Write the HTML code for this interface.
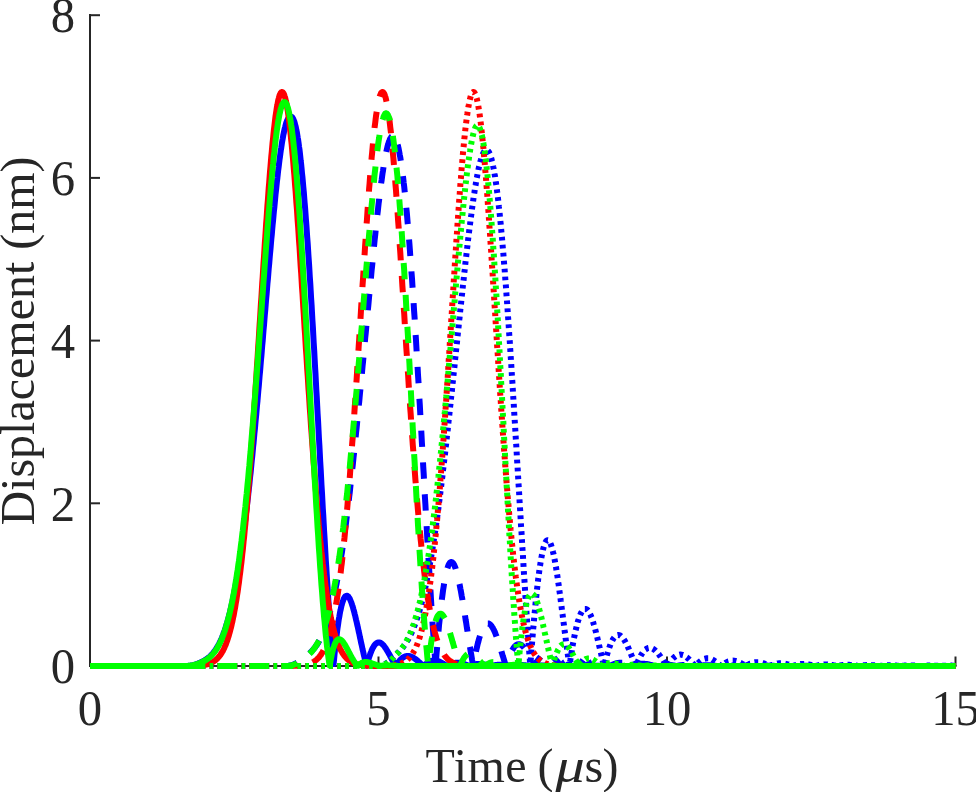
<!DOCTYPE html>
<html><head><meta charset="utf-8"><title>Displacement vs Time</title>
<style>html,body{margin:0;padding:0;background:#fff}svg{display:block}text{font-family:"Liberation Serif",serif;font-size:48px;fill:#262626}</style></head><body>
<svg width="976" height="792" viewBox="0 0 976 792">
<rect width="976" height="792" fill="#fff"/>
<g stroke="#262626" stroke-width="2" fill="none" stroke-linecap="butt">
<path d="M90,14 L90,667"/>
<path d="M89,666 L956.5,666"/>
<path d="M90,503.3 L100,503.3"/>
<path d="M90,340.6 L100,340.6"/>
<path d="M90,177.9 L100,177.9"/>
<path d="M90,15.2 L100,15.2"/>
<path d="M378.5,666 L378.5,656.5"/>
<path d="M667.0,666 L667.0,656.5"/>
<path d="M955.5,666 L955.5,656.5"/>
</g>
<g fill="none" stroke-width="6" stroke-linejoin="round">
<path d="M90.0,666.0 L185.6,666.0 L186.1,666.0 L186.5,665.9 L186.9,665.9 L187.4,665.9 L187.8,665.9 L188.2,665.8 L188.7,665.8 L189.1,665.8 L189.5,665.7 L190.0,665.7 L190.4,665.6 L190.8,665.6 L191.3,665.5 L191.7,665.4 L192.1,665.3 L192.6,665.3 L193.0,665.2 L193.4,665.1 L193.9,665.0 L194.3,664.9 L194.7,664.7 L195.2,664.6 L195.6,664.5 L196.0,664.3 L196.5,664.2 L196.9,664.0 L197.3,663.9 L197.8,663.7 L198.2,663.5 L198.6,663.3 L199.1,663.2 L199.5,663.0 L199.9,662.8 L200.4,662.5 L200.8,662.3 L201.2,662.1 L201.6,661.9 L202.1,661.7 L202.5,661.4 L202.9,661.2 L203.4,661.0 L203.8,660.8 L204.2,660.5 L204.7,660.3 L205.1,660.0 L205.5,659.8 L206.0,659.5 L206.4,659.2 L206.8,658.9 L207.3,658.6 L207.7,658.3 L208.1,657.9 L208.6,657.6 L209.0,657.2 L209.4,656.9 L209.9,656.5 L210.3,656.1 L210.7,655.6 L211.2,655.2 L211.6,654.7 L212.0,654.3 L212.5,653.8 L212.9,653.3 L213.3,652.8 L213.8,652.2 L214.2,651.7 L214.6,651.1 L215.1,650.5 L215.5,649.8 L215.9,649.2 L216.4,648.5 L216.8,647.8 L217.2,647.1 L217.7,646.4 L218.1,645.6 L218.5,644.8 L219.0,644.0 L219.4,643.1 L219.8,642.3 L220.3,641.4 L220.7,640.4 L221.1,639.5 L221.6,638.5 L222.0,637.5 L222.4,636.4 L222.9,635.3 L223.3,634.2 L223.7,633.0 L224.2,631.8 L224.6,630.6 L225.0,629.3 L225.5,628.0 L225.9,626.7 L226.3,625.3 L226.7,623.9 L227.2,622.5 L227.6,621.0 L228.0,619.4 L228.5,617.9 L228.9,616.2 L229.3,614.6 L229.8,612.9 L230.2,611.1 L230.6,609.3 L231.1,607.5 L231.5,605.6 L231.9,603.7 L232.4,601.7 L232.8,599.7 L233.2,597.6 L233.7,595.5 L234.1,593.3 L234.5,591.1 L235.0,588.8 L235.4,586.5 L235.8,584.2 L236.3,581.7 L236.7,579.3 L237.1,576.8 L237.6,574.2 L238.0,571.6 L238.4,568.9 L238.9,566.2 L239.3,563.4 L239.7,560.6 L240.2,557.7 L240.6,554.8 L241.0,551.8 L241.5,548.8 L241.9,545.7 L242.3,542.5 L242.8,539.3 L243.2,536.1 L243.6,532.8 L244.1,529.4 L244.5,526.0 L244.9,522.6 L245.4,519.0 L245.8,515.5 L246.2,511.9 L246.7,508.2 L247.1,504.5 L247.5,500.7 L248.0,496.9 L248.4,493.0 L248.8,489.1 L249.3,485.1 L249.7,481.0 L250.1,477.0 L250.6,472.8 L251.0,468.7 L251.4,464.4 L251.8,460.2 L252.3,455.8 L252.7,451.5 L253.1,447.0 L253.6,442.6 L254.0,438.1 L254.4,433.5 L254.9,429.0 L255.3,424.3 L255.7,419.7 L256.2,414.9 L256.6,410.2 L257.0,405.4 L257.5,400.6 L257.9,395.7 L258.3,390.9 L258.8,385.9 L259.2,381.0 L259.6,376.0 L260.1,371.0 L260.5,366.0 L260.9,361.0 L261.4,355.9 L261.8,350.8 L262.2,345.7 L262.7,340.6 L263.1,335.5 L263.5,330.3 L264.0,325.2 L264.4,320.0 L264.8,314.9 L265.3,309.7 L265.7,304.6 L266.1,299.4 L266.6,294.3 L267.0,289.2 L267.4,284.1 L267.9,279.0 L268.3,273.9 L268.7,268.8 L269.2,263.8 L269.6,258.8 L270.0,253.9 L270.5,248.9 L270.9,244.0 L271.3,239.2 L271.8,234.4 L272.2,229.6 L272.6,224.9 L273.1,220.3 L273.5,215.7 L273.9,211.2 L274.4,206.8 L274.8,202.4 L275.2,198.1 L275.6,193.8 L276.1,189.7 L276.5,185.6 L276.9,181.6 L277.4,177.8 L277.8,174.0 L278.2,170.3 L278.7,166.7 L279.1,163.2 L279.5,159.8 L280.0,156.5 L280.4,153.4 L280.8,150.3 L281.3,147.4 L281.7,144.6 L282.1,141.9 L282.6,139.3 L283.0,136.9 L283.4,134.6 L283.9,132.5 L284.3,130.4 L284.7,128.5 L285.2,126.8 L285.6,125.2 L286.0,123.7 L286.5,122.4 L286.9,121.2 L287.3,120.2 L287.8,119.3 L288.2,118.6 L288.6,118.1 L289.1,117.6 L289.5,117.4 L289.9,117.2 L290.4,116.8 L290.8,116.7 L291.2,116.7 L291.7,116.9 L292.1,117.2 L292.5,117.7 L293.0,118.4 L293.4,119.3 L293.8,120.3 L294.3,121.5 L294.7,122.9 L295.1,124.4 L295.6,126.2 L296.0,128.1 L296.4,130.2 L296.9,132.4 L297.3,134.9 L297.7,137.5 L298.2,140.3 L298.6,143.2 L299.0,146.4 L299.5,149.7 L299.9,153.2 L300.3,156.8 L300.7,160.7 L301.2,164.7 L301.6,168.8 L302.0,173.2 L302.5,177.7 L302.9,182.3 L303.3,187.1 L303.8,192.1 L304.2,197.3 L304.6,202.5 L305.1,208.0 L305.5,213.6 L305.9,219.3 L306.4,225.2 L306.8,231.2 L307.2,237.3 L307.7,243.6 L308.1,250.0 L308.5,256.5 L309.0,263.2 L309.4,269.9 L309.8,276.8 L310.3,283.8 L310.7,290.8 L311.1,298.0 L311.6,305.3 L312.0,312.6 L312.4,320.0 L312.9,327.5 L313.3,335.1 L313.7,342.8 L314.2,350.5 L314.6,358.2 L315.0,366.0 L315.5,373.9 L315.9,381.8 L316.3,389.7 L316.8,397.6 L317.2,405.6 L317.6,413.6 L318.1,421.6 L318.5,429.6 L318.9,437.6 L319.4,445.5 L319.8,453.5 L320.2,461.4 L320.7,469.4 L321.1,477.2 L321.5,485.1 L322.0,492.9 L322.4,500.6 L322.8,508.3 L323.3,516.0 L323.7,523.5 L324.1,531.0 L324.6,538.4 L325.0,545.8 L325.4,553.0 L325.8,560.2 L326.3,567.2 L326.7,574.2 L327.1,581.0 L327.6,587.8 L328.0,594.4 L328.4,600.9 L328.9,607.2 L329.3,613.5 L329.7,619.6 L330.2,625.6 L330.6,631.4 L331.0,637.1 L331.5,642.6 L331.9,648.0 L332.3,653.3 L332.8,658.4 L333.2,663.3 L333.6,663.9 L334.1,659.3 L334.5,654.8 L334.9,650.5 L335.4,646.4 L335.8,642.4 L336.2,638.6 L336.7,635.0 L337.1,631.5 L337.5,628.2 L338.0,625.1 L338.4,622.1 L338.8,619.3 L339.3,616.7 L339.7,614.2 L340.1,611.9 L340.6,609.8 L341.0,607.8 L341.4,606.0 L341.9,604.3 L342.3,602.8 L342.7,601.5 L343.2,600.3 L343.6,599.2 L344.0,598.3 L344.5,597.5 L344.9,596.9 L345.3,596.4 L345.8,596.1 L346.2,595.9 L346.6,595.8 L347.1,595.8 L347.5,596.0 L347.9,596.3 L348.4,596.7 L348.8,597.3 L349.2,597.9 L349.7,598.7 L350.1,599.5 L350.5,600.5 L350.9,601.5 L351.4,602.7 L351.8,603.9 L352.2,605.2 L352.7,606.6 L353.1,608.0 L353.5,609.6 L354.0,611.2 L354.4,612.8 L354.8,614.5 L355.3,616.3 L355.7,618.1 L356.1,619.9 L356.6,621.8 L357.0,623.7 L357.4,625.6 L357.9,627.6 L358.3,629.5 L358.7,631.5 L359.2,633.5 L359.6,635.5 L360.0,637.5 L360.5,639.6 L360.9,641.6 L361.3,643.6 L361.8,645.6 L362.2,647.5 L362.6,649.5 L363.1,651.4 L363.5,653.3 L363.9,655.2 L364.4,657.1 L364.8,658.9 L365.2,660.7 L365.7,662.4 L366.1,664.2 L366.5,665.8 L367.0,664.6 L367.4,663.0 L367.8,661.5 L368.3,660.0 L368.7,658.6 L369.1,657.2 L369.6,655.9 L370.0,654.7 L370.4,653.5 L370.9,652.3 L371.3,651.3 L371.7,650.2 L372.2,649.3 L372.6,648.4 L373.0,647.6 L373.5,646.8 L373.9,646.1 L374.3,645.5 L374.7,644.9 L375.2,644.4 L375.6,643.9 L376.0,643.6 L376.5,643.2 L376.9,643.0 L377.3,642.7 L377.8,642.6 L378.2,642.5 L378.6,642.4 L379.1,642.5 L379.5,642.5 L379.9,642.6 L380.4,642.8 L380.8,643.0 L381.2,643.3 L381.7,643.6 L382.1,643.9 L382.5,644.3 L383.0,644.8 L383.4,645.2 L383.8,645.7 L384.3,646.3 L384.7,646.9 L385.1,647.5 L385.6,648.1 L386.0,648.8 L386.4,649.5 L386.9,650.2 L387.3,650.9 L387.7,651.6 L388.2,652.4 L388.6,653.2 L389.0,653.9 L389.5,654.7 L389.9,655.5 L390.3,656.3 L390.8,657.1 L391.2,657.9 L391.6,658.8 L392.1,659.6 L392.5,660.3 L392.9,661.1 L393.4,661.9 L393.8,662.7 L394.2,663.4 L394.7,664.2 L395.1,664.9 L395.5,665.6 L396.0,665.7 L396.4,665.0 L396.8,664.3 L397.3,663.7 L397.7,663.1 L398.1,662.5 L398.6,661.9 L399.0,661.3 L399.4,660.8 L399.8,660.3 L400.3,659.9 L400.7,659.4 L401.1,659.0 L401.6,658.6 L402.0,658.2 L402.4,657.9 L402.9,657.6 L403.3,657.3 L403.7,657.0 L404.2,656.8 L404.6,656.6 L405.0,656.5 L405.5,656.3 L405.9,656.2 L406.3,656.1 L406.8,656.0 L407.2,656.0 L407.6,656.0 L408.1,656.0 L408.5,656.0 L408.9,656.1 L409.4,656.1 L409.8,656.2 L410.2,656.3 L410.7,656.4 L411.1,656.6 L411.5,656.8 L412.0,656.9 L412.4,657.2 L412.8,657.4 L413.3,657.6 L413.7,657.9 L414.1,658.2 L414.6,658.5 L415.0,658.8 L415.4,659.1 L415.9,659.4 L416.3,659.7 L416.7,660.1 L417.2,660.4 L417.6,660.8 L418.0,661.2 L418.5,661.6 L418.9,661.9 L419.3,662.3 L419.8,662.7 L420.2,663.1 L420.6,663.5 L421.1,663.9 L421.5,664.3 L421.9,664.7 L422.4,665.1 L422.8,665.5 L423.2,665.8 L423.7,665.8 L424.1,665.4 L424.5,665.1 L424.9,664.7 L425.4,664.4 L425.8,664.0 L426.2,663.7 L426.7,663.3 L427.1,663.0 L427.5,662.7 L428.0,662.5 L428.4,662.2 L428.8,661.9 L429.3,661.7 L429.7,661.5 L430.1,661.3 L430.6,661.2 L431.0,661.0 L431.4,660.9 L431.9,660.8 L432.3,660.7 L432.7,660.6 L433.2,660.5 L433.6,660.5 L434.0,660.5 L434.5,660.5 L434.9,660.5 L435.3,660.6 L435.8,660.6 L436.2,660.7 L436.6,660.8 L437.1,660.9 L437.5,661.0 L437.9,661.2 L438.4,661.3 L438.8,661.5 L439.2,661.7 L439.7,661.8 L440.1,662.0 L440.5,662.3 L441.0,662.5 L441.4,662.7 L441.8,662.9 L442.3,663.2 L442.7,663.4 L443.1,663.7 L443.6,663.9 L444.0,664.2 L444.4,664.4 L444.9,664.7 L445.3,665.0 L445.7,665.2 L446.2,665.5 L446.6,665.7 L447.0,666.0 L447.5,665.8 L447.9,665.5 L448.3,665.3 L448.7,665.1 L449.2,664.9 L449.6,664.7 L450.0,664.5 L450.5,664.3 L450.9,664.1 L451.3,663.9 L451.8,663.7 L452.2,663.6 L452.6,663.5 L453.1,663.3 L453.5,663.2 L453.9,663.1 L454.4,663.0 L454.8,662.9 L455.2,662.9 L455.7,662.8 L456.1,662.8 L456.5,662.7 L457.0,662.7 L457.4,662.7 L457.8,662.7 L458.3,662.8 L458.7,662.8 L459.1,662.8 L459.6,662.9 L460.0,663.0 L460.4,663.0 L460.9,663.1 L461.3,663.2 L461.7,663.3 L462.2,663.4 L462.6,663.6 L463.0,663.7 L463.5,663.8 L463.9,664.0 L464.3,664.1 L464.8,664.2 L465.2,664.4 L465.6,664.6 L466.1,664.7 L466.5,664.9 L466.9,665.0 L467.4,665.2 L467.8,665.4 L468.2,665.5 L468.7,665.7 L469.1,665.9 L469.5,666.0 L470.0,665.8 L470.4,665.7 L470.8,665.5 L471.3,665.4 L471.7,665.2 L472.1,665.1 L472.6,665.0 L473.0,664.9 L473.4,664.7 L473.8,664.6 L474.3,664.5 L474.7,664.4 L475.1,664.3 L475.6,664.3 L476.0,664.2 L476.4,664.1 L476.9,664.1 L477.3,664.0 L477.7,664.0 L478.2,664.0 L478.6,664.0 L479.0,663.9 L479.5,663.9 L479.9,663.9 L480.3,664.0 L480.8,664.0 L481.2,664.0 L481.6,664.1 L482.1,664.1 L482.5,664.2 L482.9,664.2 L483.4,664.3 L483.8,664.3 L484.2,664.4 L484.7,664.5 L485.1,664.6 L485.5,664.7 L486.0,664.8 L486.4,664.9 L486.8,665.0 L487.3,665.1 L487.7,665.2 L488.1,665.3 L488.6,665.4 L489.0,665.5 L489.4,665.6 L489.9,665.7 L490.3,665.8 L490.7,665.9 L491.2,665.9 L491.6,665.8 L492.0,665.7 L492.5,665.6 L492.9,665.5 L493.3,665.5 L493.8,665.4 L494.2,665.3 L494.6,665.2 L495.1,665.1 L495.5,665.1 L495.9,665.0 L496.4,664.9 L496.8,664.9 L497.2,664.8 L497.7,664.8 L498.1,664.7 L498.5,664.7 L498.9,664.7 L499.4,664.7 L499.8,664.7 L500.2,664.7 L500.7,664.7 L501.1,664.7 L501.5,664.7 L502.0,664.7 L502.4,664.7 L502.8,664.7 L503.3,664.8 L503.7,664.8 L504.1,664.8 L504.6,664.9 L505.0,664.9 L505.4,665.0 L505.9,665.0 L506.3,665.1 L506.7,665.2 L507.2,665.2 L507.6,665.3 L508.0,665.4 L508.5,665.4 L508.9,665.5 L509.3,665.6 L509.8,665.7 L510.2,665.7 L510.6,665.8 L511.1,665.9 L511.5,666.0 L511.9,666.0 L512.4,665.9 L512.8,665.8 L513.2,665.7 L513.7,665.7 L514.1,665.6 L514.5,665.6 L515.0,665.5 L515.4,665.4 L515.8,665.4 L516.3,665.3 L516.7,665.3 L517.1,665.3 L517.6,665.2 L518.0,665.2 L518.4,665.2 L518.9,665.1 L519.3,665.1 L519.7,665.1 L520.2,665.1 L520.6,665.1 L521.0,665.1 L521.5,665.1 L521.9,665.1 L522.3,665.1 L522.8,665.1 L523.2,665.1 L523.6,665.2 L524.0,665.2 L524.5,665.2 L524.9,665.2 L525.3,665.3 L525.8,665.3 L526.2,665.4 L526.6,665.4 L527.1,665.4 L527.5,665.5 L527.9,665.5 L528.4,665.6 L528.8,665.6 L529.2,665.7 L529.7,665.7 L530.1,665.8 L530.5,665.8 L531.0,665.9 L531.4,666.0 L531.8,666.0 L532.3,665.9 L532.7,665.9 L533.1,665.8 L533.6,665.8 L534.0,665.7 L534.4,665.7 L534.9,665.7 L535.3,665.6 L535.7,665.6 L536.2,665.6 L536.6,665.5 L537.0,665.5 L537.5,665.5 L537.9,665.4 L538.3,665.4 L538.8,665.4 L539.2,665.4 L539.6,665.4 L540.1,665.4 L540.5,665.4 L540.9,665.4 L541.4,665.4 L541.8,665.4 L542.2,665.4 L542.7,665.4 L543.1,665.4 L543.5,665.4 L544.0,665.4 L544.4,665.5 L544.8,665.5 L545.3,665.5 L545.7,665.5 L546.1,665.6 L546.6,665.6 L547.0,665.6 L547.4,665.7 L547.8,665.7 L548.3,665.7 L548.7,665.8 L549.1,665.8 L549.6,665.8 L550.0,665.9 L550.4,665.9 L550.9,666.0 L551.3,666.0 L551.7,666.0 L552.2,665.9 L552.6,665.9 L553.0,665.9 L553.5,665.8 L553.9,665.8 L554.3,665.8 L554.8,665.7 L555.2,665.7 L555.6,665.7 L556.1,665.7 L556.5,665.6 L556.9,665.6 L557.4,665.6 L557.8,665.6 L558.2,665.6 L558.7,665.6 L559.1,665.6 L559.5,665.5 L560.0,665.5 L560.4,665.5 L560.8,665.5 L561.3,665.6 L561.7,665.6 L562.1,665.6 L562.6,665.6 L563.0,665.6 L563.4,665.6 L563.9,665.6 L564.3,665.6 L564.7,665.7 L565.2,665.7 L565.6,665.7 L566.0,665.7 L566.5,665.7 L566.9,665.8 L567.3,665.8 L567.8,665.8 L568.2,665.9 L568.6,665.9 L569.1,665.9 L569.5,665.9 L569.9,666.0 L570.8,666.0 L571.2,666.0 L571.7,665.9 L572.1,665.9 L572.5,665.9 L572.9,665.9 L573.4,665.8 L573.8,665.8 L574.2,665.8 L574.7,665.8 L575.1,665.8 L575.5,665.7 L576.0,665.7 L576.4,665.7 L576.8,665.7 L577.3,665.7 L577.7,665.7 L578.1,665.7 L578.6,665.7 L579.0,665.7 L579.4,665.7 L579.9,665.7 L580.3,665.7 L580.7,665.7 L581.2,665.7 L581.6,665.7 L582.0,665.7 L582.5,665.7 L582.9,665.7 L583.3,665.7 L583.8,665.8 L584.2,665.8 L584.6,665.8 L585.1,665.8 L585.5,665.8 L585.9,665.8 L586.4,665.9 L586.8,665.9 L587.2,665.9 L587.7,665.9 L588.1,665.9 L588.5,666.0 L589.8,666.0 L590.3,665.9 L590.7,665.9 L591.1,665.9 L591.6,665.9 L592.0,665.9 L592.4,665.9 L592.9,665.8 L593.3,665.8 L593.7,665.8 L594.2,665.8 L594.6,665.8 L595.0,665.8 L595.5,665.8 L595.9,665.8 L596.3,665.8 L596.8,665.8 L597.2,665.8 L597.6,665.8 L598.0,665.8 L598.5,665.8 L598.9,665.8 L599.3,665.8 L599.8,665.8 L600.2,665.8 L600.6,665.8 L601.1,665.8 L601.5,665.8 L601.9,665.8 L602.4,665.8 L602.8,665.8 L603.2,665.8 L603.7,665.9 L604.1,665.9 L604.5,665.9 L605.0,665.9 L605.4,665.9 L605.8,665.9 L606.3,666.0 L606.7,666.0 L608.4,666.0 L608.9,666.0 L609.3,665.9 L609.7,665.9 L610.2,665.9 L610.6,665.9 L611.0,665.9 L611.5,665.9 L611.9,665.9 L612.3,665.9 L612.8,665.8 L613.2,665.8 L613.6,665.8 L614.1,665.8 L614.5,665.8 L614.9,665.8 L615.4,665.8 L615.8,665.8 L616.2,665.8 L616.7,665.8 L617.1,665.8 L617.5,665.8 L618.0,665.8 L618.4,665.8 L618.8,665.8 L619.3,665.8 L619.7,665.9 L620.1,665.9 L620.6,665.9 L621.0,665.9 L621.4,665.9 L621.8,665.9 L622.3,665.9 L622.7,665.9 L623.1,665.9 L623.6,665.9 L624.0,666.0 L624.4,666.0 L626.6,666.0 L627.0,666.0 L627.5,665.9 L627.9,665.9 L628.3,665.9 L628.8,665.9 L629.2,665.9 L629.6,665.9 L630.1,665.9 L630.5,665.9 L630.9,665.9 L631.4,665.9 L631.8,665.9 L632.2,665.9 L632.7,665.9 L633.1,665.9 L633.5,665.9 L634.0,665.9 L634.4,665.9 L634.8,665.9 L635.3,665.9 L635.7,665.9 L636.1,665.9 L636.6,665.9 L637.0,665.9 L637.4,665.9 L637.9,665.9 L638.3,665.9 L638.7,665.9 L639.2,665.9 L639.6,665.9 L640.0,665.9 L640.5,665.9 L640.9,666.0 L641.3,666.0 L644.8,666.0 L645.2,666.0 L645.7,665.9 L646.1,665.9 L646.5,665.9 L646.9,665.9 L647.4,665.9 L647.8,665.9 L648.2,665.9 L648.7,665.9 L649.1,665.9 L649.5,665.9 L650.0,665.9 L650.4,665.9 L650.8,665.9 L651.3,665.9 L651.7,665.9 L652.1,665.9 L652.6,665.9 L653.0,665.9 L653.4,665.9 L653.9,665.9 L654.3,665.9 L654.7,665.9 L655.2,665.9 L655.6,665.9 L656.0,665.9 L656.5,665.9 L656.9,665.9 L657.3,665.9 L657.8,666.0 L658.2,666.0 L663.0,666.0 L663.4,666.0 L663.8,665.9 L664.3,665.9 L664.7,665.9 L665.1,665.9 L665.6,665.9 L666.0,665.9 L666.4,665.9 L666.9,665.9 L667.3,665.9 L667.7,665.9 L668.2,665.9 L668.6,665.9 L669.0,665.9 L669.5,665.9 L669.9,665.9 L670.3,665.9 L670.8,665.9 L671.2,665.9 L671.6,665.9 L672.0,665.9 L672.5,665.9 L672.9,665.9 L673.3,665.9 L673.8,665.9 L674.2,666.0 L674.6,666.0 L675.1,666.0 L680.7,666.0 L681.1,666.0 L681.6,666.0 L682.0,666.0 L682.4,665.9 L682.9,665.9 L683.3,665.9 L683.7,665.9 L684.2,665.9 L684.6,665.9 L685.0,665.9 L685.5,665.9 L685.9,665.9 L686.3,665.9 L686.8,665.9 L687.2,665.9 L687.6,665.9 L688.1,665.9 L688.5,665.9 L688.9,665.9 L689.4,665.9 L689.8,666.0 L690.2,666.0 L690.7,666.0 L691.1,666.0 L698.9,666.0 L699.3,666.0 L699.7,666.0 L700.2,666.0 L700.6,666.0 L701.0,666.0 L701.5,665.9 L701.9,665.9 L702.3,665.9 L702.8,665.9 L703.2,665.9 L703.6,665.9 L704.1,666.0 L704.5,666.0 L704.9,666.0 L705.4,666.0 L705.8,666.0 L706.2,666.0 L717.9,666.0 L718.4,666.0 L718.8,666.0 L719.2,666.0 L719.7,666.0 L720.1,666.0 L720.5,666.0 L955.5,666.0" stroke="#0000ff"/>
<path d="M90.0,666.0 L286.0,666.0 L286.5,666.0 L286.9,665.9 L287.3,665.9 L287.8,665.9 L288.2,665.8 L288.6,665.8 L289.1,665.7 L289.5,665.6 L289.9,665.5 L290.4,665.5 L290.8,665.4 L291.2,665.3 L291.7,665.1 L292.1,665.0 L292.5,664.9 L293.0,664.7 L293.4,664.6 L293.8,664.4 L294.3,664.2 L294.7,664.0 L295.1,663.8 L295.6,663.6 L296.0,663.4 L296.4,663.1 L296.9,662.9 L297.3,662.6 L297.7,662.4 L298.2,662.1 L298.6,661.8 L299.0,661.5 L299.5,661.2 L299.9,660.9 L300.3,660.5 L300.7,660.2 L301.2,659.9 L301.6,659.5 L302.0,659.2 L302.5,658.9 L302.9,658.5 L303.3,658.2 L303.8,657.9 L304.2,657.6 L304.6,657.3 L305.1,657.0 L305.5,656.7 L305.9,656.3 L306.4,656.0 L306.8,655.7 L307.2,655.4 L307.7,655.0 L308.1,654.6 L308.5,654.3 L309.0,653.9 L309.4,653.5 L309.8,653.1 L310.3,652.7 L310.7,652.2 L311.1,651.8 L311.6,651.4 L312.0,650.9 L312.4,650.4 L312.9,649.9 L313.3,649.4 L313.7,648.9 L314.2,648.4 L314.6,647.8 L315.0,647.3 L315.5,646.7 L315.9,646.1 L316.3,645.5 L316.8,644.9 L317.2,644.2 L317.6,643.6 L318.1,642.9 L318.5,642.2 L318.9,641.4 L319.4,640.6 L319.8,639.8 L320.2,639.0 L320.7,638.1 L321.1,637.2 L321.5,636.3 L322.0,635.3 L322.4,634.4 L322.8,633.4 L323.3,632.3 L323.7,631.3 L324.1,630.2 L324.6,629.1 L325.0,627.9 L325.4,626.8 L325.8,625.6 L326.3,624.3 L326.7,623.0 L327.1,621.7 L327.6,620.4 L328.0,619.0 L328.4,617.6 L328.9,616.2 L329.3,614.7 L329.7,613.1 L330.2,611.6 L330.6,610.0 L331.0,608.3 L331.5,606.7 L331.9,604.9 L332.3,603.2 L332.8,601.4 L333.2,599.5 L333.6,597.6 L334.1,595.7 L334.5,593.7 L334.9,591.6 L335.4,589.6 L335.8,587.4 L336.2,585.3 L336.7,583.0 L337.1,580.8 L337.5,578.4 L338.0,576.1 L338.4,573.7 L338.8,571.2 L339.3,568.7 L339.7,566.1" stroke="#0000ff" stroke-dasharray="16.4 15.5"/>
<path d="M339.7,566.1 L340.1,563.5 L340.6,560.8 L341.0,558.1 L341.4,555.3 L341.9,552.5 L342.3,549.6 L342.7,546.6 L343.2,543.7 L343.6,540.6 L344.0,537.5 L344.5,534.4 L344.9,531.2 L345.3,528.0 L345.8,524.7 L346.2,521.3 L346.6,517.9 L347.1,514.5 L347.5,511.0 L347.9,507.5 L348.4,503.9 L348.8,500.3 L349.2,496.6 L349.7,492.9 L350.1,489.1 L350.5,485.3 L350.9,481.5 L351.4,477.6 L351.8,473.7 L352.2,469.7 L352.7,465.7 L353.1,461.7 L353.5,457.6 L354.0,453.5 L354.4,449.4 L354.8,445.2 L355.3,441.0 L355.7,436.8 L356.1,432.5 L356.6,428.2 L357.0,423.9 L357.4,419.5 L357.9,415.2 L358.3,410.8 L358.7,406.3 L359.2,401.9 L359.6,397.4 L360.0,392.9 L360.5,388.4 L360.9,383.9 L361.3,379.4 L361.8,374.8 L362.2,370.3 L362.6,365.7 L363.1,361.1 L363.5,356.5 L363.9,351.9 L364.4,347.3 L364.8,342.7 L365.2,338.1 L365.7,333.5 L366.1,328.9 L366.5,324.3 L367.0,319.7 L367.4,315.0 L367.8,310.4 L368.3,305.8 L368.7,301.3 L369.1,296.7 L369.6,292.1 L370.0,287.6 L370.4,283.1 L370.9,278.6 L371.3,274.1 L371.7,269.6 L372.2,265.2 L372.6,260.8 L373.0,256.4 L373.5,252.1 L373.9,247.8 L374.3,243.5 L374.7,239.3 L375.2,235.1 L375.6,231.0 L376.0,226.9 L376.5,222.9 L376.9,218.9 L377.3,215.0 L377.8,211.2 L378.2,207.4 L378.6,203.6 L379.1,200.0 L379.5,196.4 L379.9,192.9 L380.4,189.5 L380.8,186.1 L381.2,182.8 L381.7,179.7 L382.1,176.6 L382.5,173.6 L383.0,170.7 L383.4,167.9 L383.8,165.2 L384.3,162.6 L384.7,160.1 L385.1,157.7 L385.6,155.4 L386.0,153.3 L386.4,151.2 L386.9,149.3 L387.3,147.5 L387.7,145.8 L388.2,144.3 L388.6,142.8 L389.0,141.5 L389.5,140.4 L389.9,139.3 L390.3,138.4 L390.8,137.7 L391.2,137.1 L391.6,136.6 L392.1,136.3 L392.5,136.1 L392.9,136.0" stroke="#0000ff" stroke-dasharray="16.4 15.5" stroke-dashoffset="29.66"/>
<path d="M392.9,136.0 L393.4,136.0 L393.8,136.3 L394.2,136.6 L394.7,137.1 L395.1,137.8 L395.5,138.6 L396.0,139.6 L396.4,140.7 L396.8,141.9 L397.3,143.4 L397.7,144.9 L398.1,146.6 L398.6,148.5 L399.0,150.5 L399.4,152.7 L399.8,155.0 L400.3,157.5 L400.7,160.1 L401.1,162.9 L401.6,165.9 L402.0,168.9 L402.4,172.2 L402.9,175.6 L403.3,179.1 L403.7,182.8 L404.2,186.6 L404.6,190.5 L405.0,194.7 L405.5,198.9 L405.9,203.3 L406.3,207.8 L406.8,212.5 L407.2,217.3 L407.6,222.3 L408.1,227.3 L408.5,232.6 L408.9,237.9 L409.4,243.4 L409.8,248.9 L410.2,254.6 L410.7,260.5 L411.1,266.4 L411.5,272.5 L412.0,278.6 L412.4,284.9 L412.8,291.3 L413.3,297.8 L413.7,304.4 L414.1,311.0 L414.6,317.8 L415.0,324.7 L415.4,331.6 L415.9,338.6 L416.3,345.7 L416.7,352.9 L417.2,360.1 L417.6,367.4 L418.0,374.8 L418.5,382.2 L418.9,389.6 L419.3,397.2 L419.8,404.7 L420.2,412.3 L420.6,419.9 L421.1,427.6 L421.5,435.2 L421.9,442.9 L422.4,450.6 L422.8,458.3 L423.2,466.0 L423.7,473.8 L424.1,481.5 L424.5,489.1 L424.9,496.8 L425.4,504.5 L425.8,512.1 L426.2,519.7 L426.7,527.2 L427.1,534.7 L427.5,542.1 L428.0,549.5 L428.4,556.9 L428.8,564.2 L429.3,571.4 L429.7,578.5 L430.1,585.6 L430.6,592.5 L431.0,599.4 L431.4,606.2 L431.9,612.9 L432.3,619.5 L432.7,626.0 L433.2,632.4 L433.6,638.7 L434.0,644.8 L434.5,650.9 L434.9,656.8 L435.3,662.6 L435.8,663.8" stroke="#0000ff" stroke-dasharray="16.4 15.5" stroke-dashoffset="21.59"/>
<path d="M435.8,663.8 L436.2,658.3 L436.6,652.9 L437.1,647.6 L437.5,642.5 L437.9,637.6 L438.4,632.7 L438.8,628.1 L439.2,623.6 L439.7,619.2 L440.1,615.0 L440.5,610.9 L441.0,607.0 L441.4,603.3 L441.8,599.7 L442.3,596.3 L442.7,593.1 L443.1,590.0 L443.6,587.0 L444.0,584.3 L444.4,581.7 L444.9,579.3 L445.3,577.0 L445.7,574.9 L446.2,572.9 L446.6,571.2 L447.0,569.5 L447.5,568.1 L447.9,566.8 L448.3,565.7 L448.7,564.7 L449.2,563.8 L449.6,563.2 L450.0,562.7 L450.5,562.3 L450.9,562.1 L451.3,562.0 L451.8,562.1 L452.2,562.3 L452.6,562.6 L453.1,563.1 L453.5,563.7 L453.9,564.5 L454.4,565.4 L454.8,566.4 L455.2,567.5 L455.7,568.7 L456.1,570.1 L456.5,571.5 L457.0,573.1 L457.4,574.8 L457.8,576.5 L458.3,578.4 L458.7,580.3 L459.1,582.3 L459.6,584.4 L460.0,586.6 L460.4,588.8 L460.9,591.2 L461.3,593.5 L461.7,596.0 L462.2,598.4 L462.6,601.0 L463.0,603.5 L463.5,606.1 L463.9,608.8 L464.3,611.5 L464.8,614.2 L465.2,616.9 L465.6,619.6 L466.1,622.4 L466.5,625.1 L466.9,627.9 L467.4,630.6 L467.8,633.4 L468.2,636.1 L468.7,638.9 L469.1,641.6 L469.5,644.3 L470.0,647.0 L470.4,649.7 L470.8,652.3 L471.3,654.9 L471.7,657.4 L472.1,660.0 L472.6,662.4 L473.0,664.9 L473.4,664.7 L473.8,662.4 L474.3,660.1 L474.7,657.9 L475.1,655.7 L475.6,653.6 L476.0,651.5 L476.4,649.5 L476.9,647.6 L477.3,645.7 L477.7,643.9 L478.2,642.2 L478.6,640.5 L479.0,638.9 L479.5,637.4 L479.9,636.0 L480.3,634.6 L480.8,633.3 L481.2,632.1 L481.6,631.0 L482.1,629.9 L482.5,629.0 L482.9,628.1 L483.4,627.2 L483.8,626.5 L484.2,625.8 L484.7,625.3 L485.1,624.8 L485.5,624.3 L486.0,624.0 L486.4,623.7 L486.8,623.5 L487.3,623.4 L487.7,623.4 L488.1,623.4 L488.6,623.5 L489.0,623.7 L489.4,623.9 L489.9,624.2 L490.3,624.6 L490.7,625.0 L491.2,625.5 L491.6,626.1 L492.0,626.7 L492.5,627.4 L492.9,628.2 L493.3,629.0 L493.8,629.8 L494.2,630.7 L494.6,631.7 L495.1,632.7 L495.5,633.8 L495.9,634.9 L496.4,636.0 L496.8,637.2 L497.2,638.4 L497.7,639.6 L498.1,640.9 L498.5,642.2 L498.9,643.5 L499.4,644.9 L499.8,646.2 L500.2,647.6 L500.7,649.0 L501.1,650.4 L501.5,651.8 L502.0,653.3 L502.4,654.7 L502.8,656.1 L503.3,657.5 L503.7,658.9 L504.1,660.3 L504.6,661.7 L505.0,663.1 L505.4,664.4 L505.9,665.8 L506.3,664.9 L506.7,663.6 L507.2,662.3 L507.6,661.1 L508.0,659.9 L508.5,658.7 L508.9,657.5 L509.3,656.4 L509.8,655.4 L510.2,654.4 L510.6,653.4 L511.1,652.4 L511.5,651.5 L511.9,650.7 L512.4,649.9 L512.8,649.2 L513.2,648.5 L513.7,647.8 L514.1,647.2 L514.5,646.7 L515.0,646.2 L515.4,645.8 L515.8,645.4 L516.3,645.1 L516.7,644.8 L517.1,644.6 L517.6,644.4 L518.0,644.3 L518.4,644.2 L518.9,644.2 L519.3,644.2 L519.7,644.3 L520.2,644.4 L520.6,644.6 L521.0,644.9 L521.5,645.1 L521.9,645.4 L522.3,645.8 L522.8,646.2 L523.2,646.6 L523.6,647.1 L524.0,647.6 L524.5,648.2 L524.9,648.8 L525.3,649.4 L525.8,650.0 L526.2,650.7 L526.6,651.4 L527.1,652.1 L527.5,652.9 L527.9,653.6 L528.4,654.4 L528.8,655.2 L529.2,656.0 L529.7,656.8 L530.1,657.6 L530.5,658.5 L531.0,659.3 L531.4,660.1 L531.8,661.0 L532.3,661.8 L532.7,662.7 L533.1,663.5 L533.6,664.3 L534.0,665.1 L534.4,665.9 L534.9,665.3 L535.3,664.5 L535.7,663.7 L536.2,663.0 L536.6,662.3 L537.0,661.6 L537.5,660.9 L537.9,660.2 L538.3,659.6 L538.8,659.0 L539.2,658.4 L539.6,657.9 L540.1,657.4 L540.5,656.9 L540.9,656.4 L541.4,656.0 L541.8,655.6 L542.2,655.3 L542.7,654.9 L543.1,654.7 L543.5,654.4 L544.0,654.2 L544.4,654.0 L544.8,653.8 L545.3,653.7 L545.7,653.6 L546.1,653.6 L546.6,653.6 L547.0,653.6 L547.4,653.6 L547.8,653.7 L548.3,653.8 L548.7,654.0 L549.1,654.2 L549.6,654.4 L550.0,654.6 L550.4,654.9 L550.9,655.1 L551.3,655.5 L551.7,655.8 L552.2,656.1 L552.6,656.5 L553.0,656.9 L553.5,657.3 L553.9,657.8 L554.3,658.2 L554.8,658.7 L555.2,659.2 L555.6,659.6 L556.1,660.1 L556.5,660.6 L556.9,661.2 L557.4,661.7 L557.8,662.2 L558.2,662.7 L558.7,663.3 L559.1,663.8 L559.5,664.3 L560.0,664.8 L560.4,665.3 L560.8,665.9 L561.3,665.6 L561.7,665.2 L562.1,664.7 L562.6,664.2 L563.0,663.7 L563.4,663.3 L563.9,662.9 L564.3,662.4 L564.7,662.0 L565.2,661.7 L565.6,661.3 L566.0,661.0 L566.5,660.6 L566.9,660.3 L567.3,660.0 L567.8,659.8 L568.2,659.5 L568.6,659.3 L569.1,659.1 L569.5,659.0 L569.9,658.8 L570.4,658.7 L570.8,658.6 L571.2,658.5 L571.7,658.5 L572.1,658.4 L572.5,658.4 L572.9,658.4 L573.4,658.5 L573.8,658.5 L574.2,658.6 L574.7,658.7 L575.1,658.8 L575.5,659.0 L576.0,659.1 L576.4,659.3 L576.8,659.5 L577.3,659.7 L577.7,659.9 L578.1,660.2 L578.6,660.4 L579.0,660.7 L579.4,661.0 L579.9,661.3 L580.3,661.6 L580.7,661.9 L581.2,662.2 L581.6,662.6 L582.0,662.9 L582.5,663.2 L582.9,663.6 L583.3,663.9 L583.8,664.3 L584.2,664.6 L584.6,664.9 L585.1,665.3 L585.5,665.6 L585.9,666.0 L586.4,665.7 L586.8,665.4 L587.2,665.1 L587.7,664.7 L588.1,664.4 L588.5,664.1 L589.0,663.9 L589.4,663.6 L589.8,663.3 L590.3,663.1 L590.7,662.8 L591.1,662.6 L591.6,662.4 L592.0,662.2 L592.4,662.0 L592.9,661.9 L593.3,661.7 L593.7,661.6 L594.2,661.5 L594.6,661.4 L595.0,661.3 L595.5,661.2 L595.9,661.2 L596.3,661.1 L596.8,661.1 L597.2,661.1 L597.6,661.1 L598.0,661.2 L598.5,661.2 L598.9,661.3 L599.3,661.4 L599.8,661.4 L600.2,661.5 L600.6,661.7 L601.1,661.8 L601.5,661.9 L601.9,662.1 L602.4,662.2 L602.8,662.4 L603.2,662.6 L603.7,662.8 L604.1,663.0 L604.5,663.2 L605.0,663.4 L605.4,663.6 L605.8,663.8 L606.3,664.1 L606.7,664.3 L607.1,664.5 L607.6,664.8 L608.0,665.0 L608.4,665.2 L608.9,665.5 L609.3,665.7 L609.7,665.9 L610.2,665.8 L610.6,665.6 L611.0,665.4 L611.5,665.2 L611.9,665.0 L612.3,664.8 L612.8,664.6 L613.2,664.4 L613.6,664.2 L614.1,664.0 L614.5,663.9 L614.9,663.7 L615.4,663.6 L615.8,663.4 L616.2,663.3 L616.7,663.2 L617.1,663.1 L617.5,663.0 L618.0,663.0 L618.4,662.9 L618.8,662.8 L619.3,662.8 L619.7,662.8 L620.1,662.8 L620.6,662.8 L621.0,662.8 L621.4,662.8 L621.8,662.8 L622.3,662.8 L622.7,662.9 L623.1,663.0 L623.6,663.0 L624.0,663.1 L624.4,663.2 L624.9,663.3 L625.3,663.4 L625.7,663.5 L626.2,663.6 L626.6,663.8 L627.0,663.9 L627.5,664.0 L627.9,664.2 L628.3,664.3 L628.8,664.5 L629.2,664.7 L629.6,664.8 L630.1,665.0 L630.5,665.1 L630.9,665.3 L631.4,665.5 L631.8,665.6 L632.2,665.8 L632.7,666.0 L633.1,665.9 L633.5,665.7 L634.0,665.6 L634.4,665.4 L634.8,665.3 L635.3,665.1 L635.7,665.0 L636.1,664.9 L636.6,664.7 L637.0,664.6 L637.4,664.5 L637.9,664.4 L638.3,664.3 L638.7,664.2 L639.2,664.1 L639.6,664.1 L640.0,664.0 L640.5,663.9 L640.9,663.9 L641.3,663.8 L641.8,663.8 L642.2,663.8 L642.6,663.8 L643.1,663.8 L643.5,663.8 L643.9,663.8 L644.4,663.8 L644.8,663.8 L645.2,663.9 L645.7,663.9 L646.1,664.0 L646.5,664.0 L646.9,664.1 L647.4,664.1 L647.8,664.2 L648.2,664.3 L648.7,664.4 L649.1,664.5 L649.5,664.6 L650.0,664.7 L650.4,664.8 L650.8,664.9 L651.3,665.0 L651.7,665.1 L652.1,665.2 L652.6,665.4 L653.0,665.5 L653.4,665.6 L653.9,665.7 L654.3,665.8 L654.7,665.9 L655.2,665.9 L655.6,665.8 L656.0,665.7 L656.5,665.6 L656.9,665.5 L657.3,665.4 L657.8,665.3 L658.2,665.2 L658.6,665.1 L659.1,665.0 L659.5,664.9 L659.9,664.9 L660.4,664.8 L660.8,664.7 L661.2,664.7 L661.7,664.6 L662.1,664.6 L662.5,664.5 L663.0,664.5 L663.4,664.5 L663.8,664.5 L664.3,664.4 L664.7,664.4 L665.1,664.4 L665.6,664.4 L666.0,664.4 L666.4,664.5 L666.9,664.5 L667.3,664.5 L667.7,664.5 L668.2,664.6 L668.6,664.6 L669.0,664.7 L669.5,664.7 L669.9,664.8 L670.3,664.9 L670.8,664.9 L671.2,665.0 L671.6,665.1 L672.0,665.1 L672.5,665.2 L672.9,665.3 L673.3,665.4 L673.8,665.5 L674.2,665.6 L674.6,665.6 L675.1,665.7 L675.5,665.8 L675.9,665.9 L676.4,666.0 L676.8,665.9 L677.2,665.8 L677.7,665.8 L678.1,665.7 L678.5,665.6 L679.0,665.5 L679.4,665.5 L679.8,665.4 L680.3,665.3 L680.7,665.3 L681.1,665.2 L681.6,665.2 L682.0,665.1 L682.4,665.1 L682.9,665.0 L683.3,665.0 L683.7,665.0 L684.2,664.9 L684.6,664.9 L685.0,664.9 L685.5,664.9 L685.9,664.9 L686.3,664.9 L686.8,664.9 L687.2,664.9 L687.6,664.9 L688.1,664.9 L688.5,664.9 L688.9,664.9 L689.4,665.0 L689.8,665.0 L690.2,665.0 L690.7,665.1 L691.1,665.1 L691.5,665.2 L692.0,665.2 L692.4,665.3 L692.8,665.3 L693.3,665.4 L693.7,665.5 L694.1,665.5 L694.6,665.6 L695.0,665.6 L695.4,665.7 L695.9,665.8 L696.3,665.8 L696.7,665.9 L697.1,666.0 L697.6,666.0 L698.0,665.9 L698.4,665.9 L698.9,665.8 L699.3,665.7 L699.7,665.7 L700.2,665.6 L700.6,665.6 L701.0,665.5 L701.5,665.5 L701.9,665.4 L702.3,665.4 L702.8,665.4 L703.2,665.3 L703.6,665.3 L704.1,665.3 L704.5,665.2 L704.9,665.2 L705.4,665.2 L705.8,665.2 L706.2,665.2 L706.7,665.2 L707.1,665.2 L707.5,665.2 L708.0,665.2 L708.4,665.2 L708.8,665.2 L709.3,665.2 L709.7,665.2 L710.1,665.3 L710.6,665.3 L711.0,665.3 L711.4,665.3 L711.9,665.4 L712.3,665.4 L712.7,665.5 L713.2,665.5 L713.6,665.5 L714.0,665.6 L714.5,665.6 L714.9,665.7 L715.3,665.7 L715.8,665.8 L716.2,665.8 L716.6,665.9 L717.1,665.9 L717.5,666.0 L717.9,666.0 L718.4,665.9 L718.8,665.9 L719.2,665.9 L719.7,665.8 L720.1,665.8 L720.5,665.7 L720.9,665.7 L721.4,665.6 L721.8,665.6 L722.2,665.6 L722.7,665.5 L723.1,665.5 L723.5,665.5 L724.0,665.5 L724.4,665.4 L724.8,665.4 L725.3,665.4 L725.7,665.4 L726.1,665.4 L726.6,665.4 L727.0,665.4 L727.4,665.4 L727.9,665.4 L728.3,665.4 L728.7,665.4 L729.2,665.4 L729.6,665.4 L730.0,665.4 L730.5,665.5 L730.9,665.5 L731.3,665.5 L731.8,665.5 L732.2,665.5 L732.6,665.6 L733.1,665.6 L733.5,665.6 L733.9,665.7 L734.4,665.7 L734.8,665.7 L735.2,665.8 L735.7,665.8 L736.1,665.8 L736.5,665.9 L737.0,665.9 L737.4,666.0 L738.3,666.0 L738.7,665.9 L739.1,665.9 L739.6,665.9 L740.0,665.8 L740.4,665.8 L740.9,665.8 L741.3,665.7 L741.7,665.7 L742.2,665.7 L742.6,665.7 L743.0,665.6 L743.5,665.6 L743.9,665.6 L744.3,665.6 L744.8,665.6 L745.2,665.6 L745.6,665.5 L746.0,665.5 L746.5,665.5 L746.9,665.5 L747.3,665.5 L747.8,665.5 L748.2,665.5 L748.6,665.5 L749.1,665.6 L749.5,665.6 L749.9,665.6 L750.4,665.6 L750.8,665.6 L751.2,665.6 L751.7,665.6 L752.1,665.7 L752.5,665.7 L753.0,665.7 L753.4,665.7 L753.8,665.8 L754.3,665.8 L754.7,665.8 L755.1,665.8 L755.6,665.9 L756.0,665.9 L756.4,665.9 L756.9,666.0 L757.7,666.0 L758.2,666.0 L758.6,665.9 L759.0,665.9 L759.5,665.9 L759.9,665.8 L760.3,665.8 L760.8,665.8 L761.2,665.8 L761.6,665.8 L762.1,665.7 L762.5,665.7 L762.9,665.7 L763.4,665.7 L763.8,665.7 L764.2,665.7 L764.7,665.7 L765.1,665.7 L765.5,665.6 L766.0,665.6 L766.4,665.6 L766.8,665.6 L767.3,665.6 L767.7,665.6 L768.1,665.7 L768.6,665.7 L769.0,665.7 L769.4,665.7 L769.9,665.7 L770.3,665.7 L770.7,665.7 L771.1,665.7 L771.6,665.8 L772.0,665.8 L772.4,665.8 L772.9,665.8 L773.3,665.8 L773.7,665.8 L774.2,665.9 L774.6,665.9 L775.0,665.9 L775.5,665.9 L775.9,666.0 L776.3,666.0 L777.2,666.0 L777.6,666.0 L778.1,665.9 L778.5,665.9 L778.9,665.9 L779.4,665.9 L779.8,665.9 L780.2,665.8 L780.7,665.8 L781.1,665.8 L781.5,665.8 L782.0,665.8 L782.4,665.8 L782.8,665.8 L783.3,665.7 L783.7,665.7 L784.1,665.7 L784.6,665.7 L785.0,665.7 L785.4,665.7 L785.9,665.7 L786.3,665.7 L786.7,665.7 L787.2,665.7 L787.6,665.7 L788.0,665.7 L788.5,665.8 L788.9,665.8 L789.3,665.8 L789.8,665.8 L790.2,665.8 L790.6,665.8 L791.1,665.8 L791.5,665.8 L791.9,665.9 L792.4,665.9 L792.8,665.9 L793.2,665.9 L793.7,665.9 L794.1,665.9 L794.5,666.0 L794.9,666.0 L796.2,666.0 L796.7,666.0 L797.1,665.9 L797.5,665.9 L798.0,665.9 L798.4,665.9 L798.8,665.9 L799.3,665.9 L799.7,665.9 L800.1,665.8 L800.6,665.8 L801.0,665.8 L801.4,665.8 L801.9,665.8 L802.3,665.8 L802.7,665.8 L803.2,665.8 L803.6,665.8 L804.0,665.8 L804.5,665.8 L804.9,665.8 L805.3,665.8 L805.8,665.8 L806.2,665.8 L806.6,665.8 L807.1,665.8 L807.5,665.8 L807.9,665.8 L808.4,665.8 L808.8,665.8 L809.2,665.8 L809.7,665.9 L810.1,665.9 L810.5,665.9 L811.0,665.9 L811.4,665.9 L811.8,665.9 L812.3,665.9 L812.7,666.0 L813.1,666.0 L815.3,666.0 L815.7,666.0 L816.2,665.9 L816.6,665.9 L817.0,665.9 L817.5,665.9 L817.9,665.9 L818.3,665.9 L818.8,665.9 L819.2,665.9 L819.6,665.9 L820.0,665.9 L820.5,665.8 L820.9,665.8 L821.3,665.8 L821.8,665.8 L822.2,665.8 L822.6,665.8 L823.1,665.8 L823.5,665.8 L823.9,665.8 L824.4,665.8 L824.8,665.8 L825.2,665.8 L825.7,665.8 L826.1,665.9 L826.5,665.9 L827.0,665.9 L827.4,665.9 L827.8,665.9 L828.3,665.9 L828.7,665.9 L829.1,665.9 L829.6,665.9 L830.0,665.9 L830.4,665.9 L830.9,666.0 L831.3,666.0 L833.9,666.0 L834.3,666.0 L834.8,665.9 L835.2,665.9 L835.6,665.9 L836.1,665.9 L836.5,665.9 L836.9,665.9 L837.4,665.9 L837.8,665.9 L838.2,665.9 L838.7,665.9 L839.1,665.9 L839.5,665.9 L840.0,665.9 L840.4,665.9 L840.8,665.9 L841.3,665.9 L841.7,665.9 L842.1,665.9 L842.6,665.9 L843.0,665.9 L843.4,665.9 L843.9,665.9 L844.3,665.9 L844.7,665.9 L845.1,665.9 L845.6,665.9 L846.0,665.9 L846.4,665.9 L846.9,665.9 L847.3,665.9 L847.7,665.9 L848.2,665.9 L848.6,666.0 L849.0,666.0 L852.5,666.0 L852.9,666.0 L853.4,665.9 L853.8,665.9 L854.2,665.9 L854.7,665.9 L855.1,665.9 L855.5,665.9 L856.0,665.9 L856.4,665.9 L856.8,665.9 L857.3,665.9 L857.7,665.9 L858.1,665.9 L858.6,665.9 L859.0,665.9 L859.4,665.9 L859.9,665.9 L860.3,665.9 L860.7,665.9 L861.2,665.9 L861.6,665.9 L862.0,665.9 L862.5,665.9 L862.9,665.9 L863.3,665.9 L863.8,665.9 L864.2,665.9 L864.6,665.9 L865.1,665.9 L865.5,666.0 L865.9,666.0 L866.4,666.0 L870.7,666.0 L871.1,666.0 L871.5,666.0 L872.0,665.9 L872.4,665.9 L872.8,665.9 L873.3,665.9 L873.7,665.9 L874.1,665.9 L874.6,665.9 L875.0,665.9 L875.4,665.9 L875.9,665.9 L876.3,665.9 L876.7,665.9 L877.2,665.9 L877.6,665.9 L878.0,665.9 L878.5,665.9 L878.9,665.9 L879.3,665.9 L879.8,665.9 L880.2,665.9 L880.6,665.9 L881.1,665.9 L881.5,665.9 L881.9,665.9 L882.4,666.0 L882.8,666.0 L883.2,666.0 L888.9,666.0 L889.3,666.0 L889.7,666.0 L890.2,666.0 L890.6,665.9 L891.0,665.9 L891.5,665.9 L891.9,665.9 L892.3,665.9 L892.8,665.9 L893.2,665.9 L893.6,665.9 L894.0,665.9 L894.5,665.9 L894.9,665.9 L895.3,665.9 L895.8,665.9 L896.2,665.9 L896.6,665.9 L897.1,665.9 L897.5,665.9 L897.9,665.9 L898.4,665.9 L898.8,666.0 L899.2,666.0 L899.7,666.0 L900.1,666.0 L907.5,666.0 L907.9,666.0 L908.3,666.0 L908.8,666.0 L909.2,665.9 L909.6,665.9 L910.1,665.9 L910.5,665.9 L910.9,665.9 L911.4,665.9 L911.8,665.9 L912.2,665.9 L912.7,665.9 L913.1,665.9 L913.5,665.9 L914.0,665.9 L914.4,666.0 L914.8,666.0 L915.3,666.0 L915.7,666.0 L916.1,666.0 L926.1,666.0 L926.5,666.0 L926.9,666.0 L927.4,666.0 L927.8,666.0 L928.2,666.0 L928.7,666.0 L929.1,666.0 L929.5,666.0 L930.0,666.0 L930.4,666.0 L930.8,666.0 L931.3,666.0 L931.7,666.0 L955.5,666.0" stroke="#0000ff" stroke-dasharray="16.4 15.5" stroke-dashoffset="31.34"/>
<path d="M90.0,666.0 L377.8,666.0 L378.2,666.0 L378.6,665.9 L379.1,665.9 L379.5,665.8 L379.9,665.8 L380.4,665.7 L380.8,665.6 L381.2,665.5 L381.7,665.4 L382.1,665.2 L382.5,665.1 L383.0,665.0 L383.4,664.8 L383.8,664.6 L384.3,664.4 L384.7,664.2 L385.1,664.0 L385.6,663.7 L386.0,663.5 L386.4,663.2 L386.9,662.9 L387.3,662.6 L387.7,662.3 L388.2,662.0 L388.6,661.6 L389.0,661.2 L389.5,660.9 L389.9,660.5 L390.3,660.1 L390.8,659.7 L391.2,659.2 L391.6,658.8 L392.1,658.4 L392.5,657.9 L392.9,657.5 L393.4,657.0 L393.8,656.5 L394.2,656.1 L394.7,655.6 L395.1,655.2 L395.5,654.8 L396.0,654.3 L396.4,653.9 L396.8,653.5 L397.3,653.2 L397.7,652.8 L398.1,652.4 L398.6,652.0 L399.0,651.6 L399.4,651.1 L399.8,650.7 L400.3,650.2 L400.7,649.8 L401.1,649.3 L401.6,648.8 L402.0,648.3 L402.4,647.8 L402.9,647.3 L403.3,646.8 L403.7,646.2 L404.2,645.6 L404.6,645.1 L405.0,644.5 L405.5,643.9 L405.9,643.3 L406.3,642.6 L406.8,641.9 L407.2,641.1 L407.6,640.4 L408.1,639.6 L408.5,638.8 L408.9,638.0 L409.4,637.2 L409.8,636.4 L410.2,635.5 L410.7,634.6 L411.1,633.7 L411.5,632.8 L412.0,631.8 L412.4,630.8 L412.8,629.8 L413.3,628.8 L413.7,627.7 L414.1,626.6 L414.6,625.5 L415.0,624.3 L415.4,623.2 L415.9,622.0 L416.3,620.7 L416.7,619.5 L417.2,618.2 L417.6,616.9 L418.0,615.5 L418.5,614.1 L418.9,612.7 L419.3,611.3 L419.8,609.8 L420.2,608.3 L420.6,606.7 L421.1,605.1 L421.5,603.5 L421.9,601.8 L422.4,600.2 L422.8,598.4 L423.2,596.7 L423.7,594.8 L424.1,593.0 L424.5,591.1 L424.9,589.2 L425.4,587.2 L425.8,585.2 L426.2,583.2 L426.7,581.1 L427.1,579.0 L427.5,576.8 L428.0,574.6 L428.4,572.3 L428.8,570.0 L429.3,567.7 L429.7,565.3 L430.1,562.9 L430.6,560.4 L431.0,557.9 L431.4,555.3 L431.9,552.7 L432.3,550.0 L432.7,547.3 L433.2,544.6 L433.6,541.8 L434.0,538.9 L434.5,536.1 L434.9,533.1 L435.3,530.2 L435.8,527.1 L436.2,524.1 L436.6,521.0 L437.1,517.8 L437.5,514.7 L437.9,511.4 L438.4,508.2 L438.8,504.9 L439.2,501.5 L439.7,498.1 L440.1,494.7 L440.5,491.3 L441.0,487.8 L441.4,484.2 L441.8,480.7 L442.3,477.1 L442.7,473.5 L443.1,469.8 L443.6,466.1 L444.0,462.4 L444.4,458.7 L444.9,454.9 L445.3,451.1 L445.7,447.3 L446.2,443.5 L446.6,439.6 L447.0,435.7 L447.5,431.8 L447.9,427.9 L448.3,423.9 L448.7,419.9 L449.2,415.9 L449.6,411.9 L450.0,407.9 L450.5,403.9 L450.9,399.8 L451.3,395.8 L451.8,391.7 L452.2,387.6 L452.6,383.5 L453.1,379.4 L453.5,375.3 L453.9,371.2 L454.4,367.1 L454.8,362.9 L455.2,358.8 L455.7,354.6 L456.1,350.5 L456.5,346.3 L457.0,342.2 L457.4,338.1 L457.8,333.9 L458.3,329.8 L458.7,325.6 L459.1,321.5 L459.6,317.4 L460.0,313.3 L460.4,309.2 L460.9,305.1 L461.3,301.0 L461.7,296.9 L462.2,292.9 L462.6,288.9 L463.0,284.9 L463.5,280.9 L463.9,276.9 L464.3,273.0 L464.8,269.0 L465.2,265.1 L465.6,261.3 L466.1,257.5 L466.5,253.7 L466.9,249.9 L467.4,246.2 L467.8,242.5 L468.2,238.8 L468.7,235.2 L469.1,231.7 L469.5,228.1 L470.0,224.7 L470.4,221.3 L470.8,217.9 L471.3,214.6 L471.7,211.3 L472.1,208.2 L472.6,205.0 L473.0,202.0 L473.4,199.0 L473.8,196.0 L474.3,193.2 L474.7,190.4 L475.1,187.6 L475.6,185.0 L476.0,182.4 L476.4,180.0 L476.9,177.6 L477.3,175.3 L477.7,173.0 L478.2,170.9 L478.6,168.8 L479.0,166.9 L479.5,165.0 L479.9,163.3 L480.3,161.6 L480.8,160.1 L481.2,158.6 L481.6,157.3 L482.1,156.0 L482.5,154.9 L482.9,153.9 L483.4,153.0 L483.8,152.2 L484.2,151.5 L484.7,151.0 L485.1,150.6 L485.5,150.2 L486.0,150.1 L486.4,150.0 L486.8,150.1 L487.3,150.3 L487.7,150.6 L488.1,151.0 L488.6,151.6 L489.0,152.3 L489.4,153.2 L489.9,154.2 L490.3,155.3 L490.7,156.6 L491.2,158.0 L491.6,159.5 L492.0,161.2 L492.5,163.0 L492.9,165.0 L493.3,167.1 L493.8,169.3 L494.2,171.7 L494.6,174.2 L495.1,176.9 L495.5,179.6 L495.9,182.6 L496.4,185.7 L496.8,188.9 L497.2,192.2 L497.7,195.7 L498.1,199.3 L498.5,203.1 L498.9,207.0 L499.4,211.0 L499.8,215.2 L500.2,219.5 L500.7,223.9 L501.1,228.4 L501.5,233.1 L502.0,237.9 L502.4,242.8 L502.8,247.8 L503.3,252.9 L503.7,258.2 L504.1,263.5 L504.6,269.0 L505.0,274.6 L505.4,280.3 L505.9,286.0 L506.3,291.9 L506.7,297.9 L507.2,303.9 L507.6,310.1 L508.0,316.3 L508.5,322.6 L508.9,329.0 L509.3,335.4 L509.8,341.9 L510.2,348.5 L510.6,355.2 L511.1,361.9 L511.5,368.7 L511.9,375.5 L512.4,382.4 L512.8,389.3 L513.2,396.3 L513.7,403.3 L514.1,410.4 L514.5,417.4 L515.0,424.5 L515.4,431.7 L515.8,438.8 L516.3,446.0 L516.7,453.2 L517.1,460.4 L517.6,467.6 L518.0,474.8 L518.4,482.0 L518.9,489.2 L519.3,496.4 L519.7,503.6 L520.2,510.8 L520.6,518.0 L521.0,525.1 L521.5,532.2 L521.9,539.3 L522.3,546.3 L522.8,553.4 L523.2,560.3 L523.6,567.3 L524.0,574.1 L524.5,581.0 L524.9,587.8 L525.3,594.5 L525.8,601.2 L526.2,607.8 L526.6,614.3 L527.1,620.8 L527.5,627.2 L527.9,633.5 L528.4,639.7 L528.8,645.9 L529.2,651.9 L529.7,657.9 L530.1,663.8 L530.5,662.4 L531.0,656.7 L531.4,651.2 L531.8,645.7 L532.3,640.3 L532.7,635.1 L533.1,629.9 L533.6,624.9 L534.0,620.0 L534.4,615.2 L534.9,610.6 L535.3,606.1 L535.7,601.7 L536.2,597.4 L536.6,593.3 L537.0,589.3 L537.5,585.5 L537.9,581.8 L538.3,578.2 L538.8,574.8 L539.2,571.6 L539.6,568.5 L540.1,565.6 L540.5,562.8 L540.9,560.1 L541.4,557.7 L541.8,555.4 L542.2,553.2 L542.7,551.2 L543.1,549.4 L543.5,547.7 L544.0,546.2 L544.4,544.9 L544.8,543.7 L545.3,542.7 L545.7,541.9 L546.1,541.2 L546.6,540.7 L547.0,540.4 L547.4,540.2 L547.8,540.2 L548.3,540.3 L548.7,540.6 L549.1,541.1 L549.6,541.7 L550.0,542.5 L550.4,543.4 L550.9,544.5 L551.3,545.7 L551.7,547.1 L552.2,548.6 L552.6,550.3 L553.0,552.0 L553.5,553.9 L553.9,556.0 L554.3,558.1 L554.8,560.4 L555.2,562.7 L555.6,565.2 L556.1,567.8 L556.5,570.5 L556.9,573.2 L557.4,576.1 L557.8,579.0 L558.2,582.0 L558.7,585.0 L559.1,588.2 L559.5,591.3 L560.0,594.6 L560.4,597.8 L560.8,601.1 L561.3,604.4 L561.7,607.8 L562.1,611.2 L562.6,614.6 L563.0,618.0 L563.4,621.4 L563.9,624.7 L564.3,628.1 L564.7,631.5 L565.2,634.9 L565.6,638.2 L566.0,641.5 L566.5,644.8 L566.9,648.0 L567.3,651.2 L567.8,654.4 L568.2,657.5 L568.6,660.6 L569.1,663.6 L569.5,665.5 L569.9,662.6 L570.4,659.7 L570.8,656.9 L571.2,654.2 L571.7,651.6 L572.1,649.0 L572.5,646.5 L572.9,644.0 L573.4,641.7 L573.8,639.4 L574.2,637.2 L574.7,635.0 L575.1,633.0 L575.5,631.0 L576.0,629.1 L576.4,627.3 L576.8,625.5 L577.3,623.9 L577.7,622.3 L578.1,620.8 L578.6,619.4 L579.0,618.1 L579.4,616.9 L579.9,615.7 L580.3,614.7 L580.7,613.7 L581.2,612.8 L581.6,612.0 L582.0,611.3 L582.5,610.7 L582.9,610.2 L583.3,609.7 L583.8,609.4 L584.2,609.1 L584.6,608.9 L585.1,608.9 L585.5,608.9 L585.9,609.0 L586.4,609.1 L586.8,609.4 L587.2,609.7 L587.7,610.2 L588.1,610.7 L588.5,611.3 L589.0,611.9 L589.4,612.7 L589.8,613.5 L590.3,614.4 L590.7,615.4 L591.1,616.5 L591.6,617.6 L592.0,618.8 L592.4,620.0 L592.9,621.3 L593.3,622.7 L593.7,624.1 L594.2,625.6 L594.6,627.2 L595.0,628.7 L595.5,630.4 L595.9,632.0 L596.3,633.7 L596.8,635.4 L597.2,637.2 L597.6,639.0 L598.0,640.8 L598.5,642.6 L598.9,644.4 L599.3,646.3 L599.8,648.2 L600.2,650.0 L600.6,651.9 L601.1,653.7 L601.5,655.6 L601.9,657.4 L602.4,659.3 L602.8,661.1 L603.2,662.9 L603.7,664.6 L604.1,665.6 L604.5,663.9 L605.0,662.2 L605.4,660.6 L605.8,659.0 L606.3,657.4 L606.7,655.9 L607.1,654.4 L607.6,652.9 L608.0,651.5 L608.4,650.2 L608.9,648.9 L609.3,647.6 L609.7,646.4 L610.2,645.3 L610.6,644.2 L611.0,643.2 L611.5,642.3 L611.9,641.3 L612.3,640.5 L612.8,639.7 L613.2,639.0 L613.6,638.3 L614.1,637.7 L614.5,637.2 L614.9,636.7 L615.4,636.3 L615.8,635.9 L616.2,635.6 L616.7,635.4 L617.1,635.2 L617.5,635.1 L618.0,635.0 L618.4,635.0 L618.8,635.1 L619.3,635.2 L619.7,635.3 L620.1,635.5 L620.6,635.8 L621.0,636.1 L621.4,636.5 L621.8,636.9 L622.3,637.4 L622.7,637.9 L623.1,638.4 L623.6,639.0 L624.0,639.6 L624.4,640.3 L624.9,641.0 L625.3,641.8 L625.7,642.6 L626.2,643.4 L626.6,644.2 L627.0,645.1 L627.5,646.0 L627.9,647.0 L628.3,647.9 L628.8,648.9 L629.2,649.9 L629.6,650.9 L630.1,651.9 L630.5,653.0 L630.9,654.0 L631.4,655.1 L631.8,656.2 L632.2,657.2 L632.7,658.3 L633.1,659.4 L633.5,660.5 L634.0,661.5 L634.4,662.6 L634.8,663.7 L635.3,664.7 L635.7,665.7 L636.1,665.2 L636.6,664.2 L637.0,663.2 L637.4,662.3 L637.9,661.3 L638.3,660.4 L638.7,659.5 L639.2,658.6 L639.6,657.8 L640.0,657.0 L640.5,656.2 L640.9,655.4 L641.3,654.7 L641.8,654.0 L642.2,653.3 L642.6,652.7 L643.1,652.1 L643.5,651.6 L643.9,651.1 L644.4,650.6 L644.8,650.1 L645.2,649.7 L645.7,649.4 L646.1,649.1 L646.5,648.8 L646.9,648.5 L647.4,648.3 L647.8,648.1 L648.2,648.0 L648.7,647.9 L649.1,647.8 L649.5,647.8 L650.0,647.8 L650.4,647.9 L650.8,648.0 L651.3,648.1 L651.7,648.2 L652.1,648.4 L652.6,648.6 L653.0,648.8 L653.4,649.1 L653.9,649.4 L654.3,649.7 L654.7,650.1 L655.2,650.4 L655.6,650.8 L656.0,651.2 L656.5,651.7 L656.9,652.1 L657.3,652.6 L657.8,653.1 L658.2,653.6 L658.6,654.2 L659.1,654.7 L659.5,655.3 L659.9,655.8 L660.4,656.4 L660.8,657.0 L661.2,657.6 L661.7,658.2 L662.1,658.9 L662.5,659.5 L663.0,660.1 L663.4,660.8 L663.8,661.4 L664.3,662.0 L664.7,662.7 L665.1,663.3 L665.6,664.0 L666.0,664.6 L666.4,665.2 L666.9,665.9 L667.3,665.5 L667.7,664.9 L668.2,664.3 L668.6,663.7 L669.0,663.1 L669.5,662.5 L669.9,662.0 L670.3,661.4 L670.8,660.9 L671.2,660.4 L671.6,659.9 L672.0,659.4 L672.5,658.9 L672.9,658.5 L673.3,658.0 L673.8,657.6 L674.2,657.3 L674.6,656.9 L675.1,656.6 L675.5,656.3 L675.9,656.0 L676.4,655.7 L676.8,655.5 L677.2,655.3 L677.7,655.1 L678.1,655.0 L678.5,654.8 L679.0,654.7 L679.4,654.7 L679.8,654.6 L680.3,654.6 L680.7,654.6 L681.1,654.6 L681.6,654.7 L682.0,654.8 L682.4,654.9 L682.9,655.1 L683.3,655.2 L683.7,655.4 L684.2,655.6 L684.6,655.9 L685.0,656.1 L685.5,656.4 L685.9,656.7 L686.3,657.0 L686.8,657.3 L687.2,657.7 L687.6,658.1 L688.1,658.4 L688.5,658.8 L688.9,659.2 L689.4,659.7 L689.8,660.1 L690.2,660.5 L690.7,661.0 L691.1,661.5 L691.5,661.9 L692.0,662.4 L692.4,662.9 L692.8,663.3 L693.3,663.8 L693.7,664.3 L694.1,664.8 L694.6,665.2 L695.0,665.7 L695.4,665.8 L695.9,665.4 L696.3,664.9 L696.7,664.5 L697.1,664.0 L697.6,663.6 L698.0,663.2 L698.4,662.8 L698.9,662.4 L699.3,662.0 L699.7,661.6 L700.2,661.3 L700.6,661.0 L701.0,660.7 L701.5,660.4 L701.9,660.1 L702.3,659.8 L702.8,659.6 L703.2,659.4 L703.6,659.2 L704.1,659.0 L704.5,658.8 L704.9,658.7 L705.4,658.6 L705.8,658.5 L706.2,658.4 L706.7,658.3 L707.1,658.3 L707.5,658.3 L708.0,658.3 L708.4,658.3 L708.8,658.4 L709.3,658.5 L709.7,658.6 L710.1,658.7 L710.6,658.8 L711.0,659.0 L711.4,659.1 L711.9,659.3 L712.3,659.5 L712.7,659.8 L713.2,660.0 L713.6,660.3 L714.0,660.5 L714.5,660.8 L714.9,661.1 L715.3,661.4 L715.8,661.7 L716.2,662.0 L716.6,662.3 L717.1,662.7 L717.5,663.0 L717.9,663.4 L718.4,663.7 L718.8,664.1 L719.2,664.4 L719.7,664.8 L720.1,665.1 L720.5,665.5 L720.9,665.8 L721.4,665.8 L721.8,665.5 L722.2,665.2 L722.7,664.8 L723.1,664.5 L723.5,664.2 L724.0,663.9 L724.4,663.6 L724.8,663.3 L725.3,663.1 L725.7,662.8 L726.1,662.6 L726.6,662.3 L727.0,662.1 L727.4,661.9 L727.9,661.7 L728.3,661.5 L728.7,661.4 L729.2,661.2 L729.6,661.1 L730.0,661.0 L730.5,660.9 L730.9,660.8 L731.3,660.7 L731.8,660.7 L732.2,660.7 L732.6,660.6 L733.1,660.6 L733.5,660.7 L733.9,660.7 L734.4,660.7 L734.8,660.8 L735.2,660.9 L735.7,661.0 L736.1,661.1 L736.5,661.2 L737.0,661.4 L737.4,661.5 L737.8,661.7 L738.3,661.8 L738.7,662.0 L739.1,662.2 L739.6,662.4 L740.0,662.6 L740.4,662.9 L740.9,663.1 L741.3,663.3 L741.7,663.6 L742.2,663.8 L742.6,664.1 L743.0,664.3 L743.5,664.6 L743.9,664.8 L744.3,665.1 L744.8,665.3 L745.2,665.6 L745.6,665.9 L746.0,665.9 L746.5,665.6 L746.9,665.4 L747.3,665.2 L747.8,664.9 L748.2,664.7 L748.6,664.5 L749.1,664.3 L749.5,664.0 L749.9,663.8 L750.4,663.7 L750.8,663.5 L751.2,663.3 L751.7,663.1 L752.1,663.0 L752.5,662.9 L753.0,662.7 L753.4,662.6 L753.8,662.5 L754.3,662.4 L754.7,662.4 L755.1,662.3 L755.6,662.2 L756.0,662.2 L756.4,662.2 L756.9,662.2 L757.3,662.2 L757.7,662.2 L758.2,662.2 L758.6,662.2 L759.0,662.3 L759.5,662.3 L759.9,662.4 L760.3,662.5 L760.8,662.6 L761.2,662.7 L761.6,662.8 L762.1,662.9 L762.5,663.1 L762.9,663.2 L763.4,663.3 L763.8,663.5 L764.2,663.7 L764.7,663.8 L765.1,664.0 L765.5,664.2 L766.0,664.4 L766.4,664.5 L766.8,664.7 L767.3,664.9 L767.7,665.1 L768.1,665.3 L768.6,665.5 L769.0,665.7 L769.4,665.9 L769.9,665.9 L770.3,665.7 L770.7,665.6 L771.1,665.4 L771.6,665.2 L772.0,665.0 L772.4,664.9 L772.9,664.7 L773.3,664.5 L773.7,664.4 L774.2,664.3 L774.6,664.1 L775.0,664.0 L775.5,663.9 L775.9,663.8 L776.3,663.7 L776.8,663.6 L777.2,663.5 L777.6,663.4 L778.1,663.4 L778.5,663.3 L778.9,663.3 L779.4,663.2 L779.8,663.2 L780.2,663.2 L780.7,663.2 L781.1,663.2 L781.5,663.2 L782.0,663.2 L782.4,663.3 L782.8,663.3 L783.3,663.4 L783.7,663.4 L784.1,663.5 L784.6,663.6 L785.0,663.7 L785.4,663.8 L785.9,663.9 L786.3,664.0 L786.7,664.1 L787.2,664.2 L787.6,664.3 L788.0,664.4 L788.5,664.6 L788.9,664.7 L789.3,664.8 L789.8,665.0 L790.2,665.1 L790.6,665.3 L791.1,665.4 L791.5,665.6 L791.9,665.7 L792.4,665.9 L792.8,666.0 L793.2,665.9 L793.7,665.7 L794.1,665.6 L794.5,665.4 L794.9,665.3 L795.4,665.2 L795.8,665.1 L796.2,664.9 L796.7,664.8 L797.1,664.7 L797.5,664.6 L798.0,664.5 L798.4,664.4 L798.8,664.3 L799.3,664.3 L799.7,664.2 L800.1,664.1 L800.6,664.1 L801.0,664.0 L801.4,664.0 L801.9,664.0 L802.3,663.9 L802.7,663.9 L803.2,663.9 L803.6,663.9 L804.0,663.9 L804.5,663.9 L804.9,664.0 L805.3,664.0 L805.8,664.0 L806.2,664.1 L806.6,664.1 L807.1,664.2 L807.5,664.2 L807.9,664.3 L808.4,664.4 L808.8,664.4 L809.2,664.5 L809.7,664.6 L810.1,664.7 L810.5,664.8 L811.0,664.9 L811.4,665.0 L811.8,665.1 L812.3,665.2 L812.7,665.3 L813.1,665.4 L813.6,665.6 L814.0,665.7 L814.4,665.8 L814.9,665.9 L815.3,666.0 L815.7,665.9 L816.2,665.8 L816.6,665.7 L817.0,665.6 L817.5,665.5 L817.9,665.4 L818.3,665.3 L818.8,665.2 L819.2,665.1 L819.6,665.0 L820.0,664.9 L820.5,664.9 L820.9,664.8 L821.3,664.7 L821.8,664.7 L822.2,664.6 L822.6,664.6 L823.1,664.5 L823.5,664.5 L823.9,664.5 L824.4,664.4 L824.8,664.4 L825.2,664.4 L825.7,664.4 L826.1,664.4 L826.5,664.4 L827.0,664.4 L827.4,664.5 L827.8,664.5 L828.3,664.5 L828.7,664.6 L829.1,664.6 L829.6,664.6 L830.0,664.7 L830.4,664.8 L830.9,664.8 L831.3,664.9 L831.7,665.0 L832.2,665.0 L832.6,665.1 L833.0,665.2 L833.5,665.3 L833.9,665.3 L834.3,665.4 L834.8,665.5 L835.2,665.6 L835.6,665.7 L836.1,665.8 L836.5,665.9 L836.9,665.9 L837.4,666.0 L837.8,665.9 L838.2,665.8 L838.7,665.7 L839.1,665.6 L839.5,665.6 L840.0,665.5 L840.4,665.4 L840.8,665.3 L841.3,665.3 L841.7,665.2 L842.1,665.1 L842.6,665.1 L843.0,665.0 L843.4,665.0 L843.9,665.0 L844.3,664.9 L844.7,664.9 L845.1,664.9 L845.6,664.8 L846.0,664.8 L846.4,664.8 L846.9,664.8 L847.3,664.8 L847.7,664.8 L848.2,664.8 L848.6,664.8 L849.0,664.8 L849.5,664.8 L849.9,664.9 L850.3,664.9 L850.8,664.9 L851.2,665.0 L851.6,665.0 L852.1,665.0 L852.5,665.1 L852.9,665.1 L853.4,665.2 L853.8,665.3 L854.2,665.3 L854.7,665.4 L855.1,665.4 L855.5,665.5 L856.0,665.6 L856.4,665.6 L856.8,665.7 L857.3,665.8 L857.7,665.9 L858.1,665.9 L858.6,666.0 L859.0,665.9 L859.4,665.9 L859.9,665.8 L860.3,665.7 L860.7,665.7 L861.2,665.6 L861.6,665.6 L862.0,665.5 L862.5,665.5 L862.9,665.4 L863.3,665.4 L863.8,665.3 L864.2,665.3 L864.6,665.2 L865.1,665.2 L865.5,665.2 L865.9,665.1 L866.4,665.1 L866.8,665.1 L867.2,665.1 L867.7,665.1 L868.1,665.1 L868.5,665.1 L869.0,665.1 L869.4,665.1 L869.8,665.1 L870.2,665.1 L870.7,665.1 L871.1,665.1 L871.5,665.1 L872.0,665.2 L872.4,665.2 L872.8,665.2 L873.3,665.3 L873.7,665.3 L874.1,665.3 L874.6,665.4 L875.0,665.4 L875.4,665.5 L875.9,665.5 L876.3,665.6 L876.7,665.6 L877.2,665.7 L877.6,665.7 L878.0,665.8 L878.5,665.9 L878.9,665.9 L879.3,666.0 L879.8,666.0 L880.2,665.9 L880.6,665.9 L881.1,665.8 L881.5,665.8 L881.9,665.7 L882.4,665.7 L882.8,665.6 L883.2,665.6 L883.7,665.5 L884.1,665.5 L884.5,665.5 L885.0,665.4 L885.4,665.4 L885.8,665.4 L886.3,665.4 L886.7,665.3 L887.1,665.3 L887.6,665.3 L888.0,665.3 L888.4,665.3 L888.9,665.3 L889.3,665.3 L889.7,665.3 L890.2,665.3 L890.6,665.3 L891.0,665.3 L891.5,665.3 L891.9,665.3 L892.3,665.3 L892.8,665.3 L893.2,665.4 L893.6,665.4 L894.0,665.4 L894.5,665.5 L894.9,665.5 L895.3,665.5 L895.8,665.6 L896.2,665.6 L896.6,665.6 L897.1,665.7 L897.5,665.7 L897.9,665.8 L898.4,665.8 L898.8,665.9 L899.2,665.9 L899.7,665.9 L900.1,666.0 L900.5,666.0 L901.0,665.9 L901.4,665.9 L901.8,665.8 L902.3,665.8 L902.7,665.8 L903.1,665.7 L903.6,665.7 L904.0,665.7 L904.4,665.6 L904.9,665.6 L905.3,665.6 L905.7,665.5 L906.2,665.5 L906.6,665.5 L907.0,665.5 L907.5,665.5 L907.9,665.4 L908.3,665.4 L908.8,665.4 L909.2,665.4 L909.6,665.4 L910.1,665.4 L910.5,665.4 L910.9,665.4 L911.4,665.4 L911.8,665.4 L912.2,665.4 L912.7,665.5 L913.1,665.5 L913.5,665.5 L914.0,665.5 L914.4,665.5 L914.8,665.6 L915.3,665.6 L915.7,665.6 L916.1,665.7 L916.6,665.7 L917.0,665.7 L917.4,665.7 L917.9,665.8 L918.3,665.8 L918.7,665.9 L919.1,665.9 L919.6,665.9 L920.0,666.0 L920.9,666.0 L921.3,665.9 L921.7,665.9 L922.2,665.9 L922.6,665.8 L923.0,665.8 L923.5,665.8 L923.9,665.7 L924.3,665.7 L924.8,665.7 L925.2,665.7 L925.6,665.6 L926.1,665.6 L926.5,665.6 L926.9,665.6 L927.4,665.6 L927.8,665.6 L928.2,665.6 L928.7,665.5 L929.1,665.5 L929.5,665.5 L930.0,665.5 L930.4,665.5 L930.8,665.5 L931.3,665.5 L931.7,665.5 L932.1,665.6 L932.6,665.6 L933.0,665.6 L933.4,665.6 L933.9,665.6 L934.3,665.6 L934.7,665.6 L935.2,665.7 L935.6,665.7 L936.0,665.7 L936.5,665.7 L936.9,665.8 L937.3,665.8 L937.8,665.8 L938.2,665.9 L938.6,665.9 L939.1,665.9 L939.5,665.9 L939.9,666.0 L940.8,666.0 L941.2,665.9 L941.7,665.9 L942.1,665.9 L942.5,665.9 L943.0,665.8 L943.4,665.8 L943.8,665.8 L944.2,665.8 L944.7,665.7 L945.1,665.7 L945.5,665.7 L946.0,665.7 L946.4,665.7 L946.8,665.7 L947.3,665.7 L947.7,665.6 L948.1,665.6 L948.6,665.6 L949.0,665.6 L949.4,665.6 L949.9,665.6 L950.3,665.6 L950.7,665.6 L951.2,665.6 L951.6,665.6 L952.0,665.6 L952.5,665.7 L952.9,665.7 L953.3,665.7 L953.8,665.7 L954.2,665.7 L954.6,665.7 L955.1,665.7 L955.5,665.8" stroke="#0000ff" stroke-dasharray="3.7 4.275"/>
<path d="M90.0,666.0 L185.6,666.0 L186.1,666.0 L186.5,666.0 L186.9,666.0 L187.4,665.9 L187.8,665.9 L188.2,665.9 L188.7,665.9 L189.1,665.9 L189.5,665.9 L190.0,665.9 L190.4,665.9 L190.8,665.9 L191.3,665.9 L191.7,665.9 L192.1,665.9 L192.6,665.9 L193.0,665.8 L193.4,665.8 L193.9,665.8 L194.3,665.8 L194.7,665.8 L195.2,665.8 L195.6,665.8 L196.0,665.7 L196.5,665.7 L196.9,665.7 L197.3,665.7 L197.8,665.6 L198.2,665.6 L198.6,665.6 L199.1,665.5 L199.5,665.5 L199.9,665.5 L200.4,665.4 L200.8,665.4 L201.2,665.3 L201.6,665.3 L202.1,665.2 L202.5,665.2 L202.9,665.1 L203.4,665.1 L203.8,665.0 L204.2,664.9 L204.7,664.8 L205.1,664.8 L205.5,664.7 L206.0,664.6 L206.4,664.5 L206.8,664.4 L207.3,664.3 L207.7,664.1 L208.1,664.0 L208.6,663.9 L209.0,663.7 L209.4,663.6 L209.9,663.4 L210.3,663.2 L210.7,663.0 L211.2,662.8 L211.6,662.6 L212.0,662.4 L212.5,662.2 L212.9,661.9 L213.3,661.7 L213.8,661.4 L214.2,661.1 L214.6,660.8 L215.1,660.5 L215.5,660.2 L215.9,659.8 L216.4,659.4 L216.8,659.0 L217.2,658.6 L217.7,658.2 L218.1,657.7 L218.5,657.2 L219.0,656.7 L219.4,656.2 L219.8,655.6 L220.3,655.0 L220.7,654.4 L221.1,653.7 L221.6,653.0 L222.0,652.3 L222.4,651.6 L222.9,650.8 L223.3,650.0 L223.7,649.1 L224.2,648.2 L224.6,647.2 L225.0,646.2 L225.5,645.2 L225.9,644.1 L226.3,643.0 L226.7,641.8 L227.2,640.6 L227.6,639.3 L228.0,638.0 L228.5,636.6 L228.9,635.2 L229.3,633.7 L229.8,632.1 L230.2,630.5 L230.6,628.8 L231.1,627.1 L231.5,625.3 L231.9,623.4 L232.4,621.4 L232.8,619.4 L233.2,617.3 L233.7,615.2 L234.1,612.9 L234.5,610.6 L235.0,608.2 L235.4,605.7 L235.8,603.1 L236.3,600.5 L236.7,597.8 L237.1,595.0 L237.6,592.0 L238.0,589.0 L238.4,586.0 L238.9,582.8 L239.3,579.5 L239.7,576.2 L240.2,572.7 L240.6,569.1 L241.0,565.5 L241.5,561.8 L241.9,557.9 L242.3,554.0 L242.8,549.9 L243.2,545.8 L243.6,541.5 L244.1,537.2 L244.5,532.8 L244.9,528.2 L245.4,523.6 L245.8,518.9 L246.2,514.0 L246.7,509.1 L247.1,504.1 L247.5,498.9 L248.0,493.7 L248.4,488.4 L248.8,483.0 L249.3,477.5 L249.7,471.9 L250.1,466.2 L250.6,460.5 L251.0,454.6 L251.4,448.7 L251.8,442.7 L252.3,436.6 L252.7,430.5 L253.1,424.2 L253.6,417.9 L254.0,411.6 L254.4,405.1 L254.9,398.7 L255.3,392.1 L255.7,385.5 L256.2,378.9 L256.6,372.2 L257.0,365.5 L257.5,358.7 L257.9,352.0 L258.3,345.1 L258.8,338.3 L259.2,331.5 L259.6,324.6 L260.1,317.8 L260.5,310.9 L260.9,304.0 L261.4,297.2 L261.8,290.4 L262.2,283.6 L262.7,276.8 L263.1,270.0 L263.5,263.3 L264.0,256.7 L264.4,250.1 L264.8,243.5 L265.3,237.0 L265.7,230.6 L266.1,224.3 L266.6,218.0 L267.0,211.9 L267.4,205.8 L267.9,199.8 L268.3,193.9 L268.7,188.2 L269.2,182.5 L269.6,177.0 L270.0,171.6 L270.5,166.4 L270.9,161.2 L271.3,156.3 L271.8,151.5 L272.2,146.8 L272.6,142.3 L273.1,138.0 L273.5,133.8 L273.9,129.8 L274.4,126.0 L274.8,122.4 L275.2,118.9 L275.6,115.7 L276.1,112.6 L276.5,109.8 L276.9,107.1 L277.4,104.7 L277.8,102.5 L278.2,100.4 L278.7,98.6 L279.1,97.0 L279.5,95.6 L280.0,94.5 L280.4,93.5 L280.8,92.8 L281.3,92.3 L281.7,92.1 L282.1,92.0 L282.6,92.2 L283.0,92.6 L283.4,93.2 L283.9,94.0 L284.3,95.1 L284.7,96.4 L285.2,97.8 L285.6,99.6 L286.0,101.5 L286.5,103.6 L286.9,106.0 L287.3,108.5 L287.8,111.3 L288.2,114.2 L288.6,117.4 L289.1,120.7 L289.5,124.3 L289.9,128.0 L290.4,131.9 L290.8,136.0 L291.2,140.2 L291.7,144.7 L292.1,149.3 L292.5,154.0 L293.0,158.9 L293.4,164.0 L293.8,169.1 L294.3,174.5 L294.7,179.9 L295.1,185.5 L295.6,191.2 L296.0,197.1 L296.4,203.0 L296.9,209.0 L297.3,215.1 L297.7,221.4 L298.2,227.7 L298.6,234.0 L299.0,240.5 L299.5,247.0 L299.9,253.6 L300.3,260.2 L300.7,266.9 L301.2,273.6 L301.6,280.4 L302.0,287.2 L302.5,294.0 L302.9,300.8 L303.3,307.7 L303.8,314.6 L304.2,321.4 L304.6,328.3 L305.1,335.1 L305.5,342.0 L305.9,348.8 L306.4,355.6 L306.8,362.3 L307.2,369.1 L307.7,375.8 L308.1,382.4 L308.5,389.0 L309.0,395.6 L309.4,402.1 L309.8,408.6 L310.3,415.0 L310.7,421.3 L311.1,427.6 L311.6,433.8 L312.0,439.9 L312.4,445.9 L312.9,451.9 L313.3,457.8 L313.7,463.6 L314.2,469.3 L314.6,474.9 L315.0,480.5 L315.5,485.9 L315.9,491.3 L316.3,496.5 L316.8,501.7 L317.2,506.8 L317.6,511.7 L318.1,516.6 L318.5,521.4 L318.9,526.1 L319.4,530.7 L319.8,535.2 L320.2,539.5 L320.7,543.8 L321.1,548.0 L321.5,552.1 L322.0,556.1 L322.4,560.0 L322.8,563.8 L323.3,567.5 L323.7,571.1 L324.1,574.6 L324.6,578.0 L325.0,581.3 L325.4,584.5 L325.8,587.6 L326.3,590.7 L326.7,593.6 L327.1,596.5 L327.6,599.2 L328.0,601.9 L328.4,604.5 L328.9,607.0 L329.3,609.5 L329.7,611.8 L330.2,614.1 L330.6,616.3 L331.0,618.5 L331.5,620.5 L331.9,622.5 L332.3,624.4 L332.8,626.2 L333.2,628.0 L333.6,629.7 L334.1,631.4 L334.5,633.0 L334.9,634.5 L335.4,636.0 L335.8,637.4 L336.2,638.7 L336.7,640.0 L337.1,641.3 L337.5,642.5 L338.0,643.6 L338.4,644.7 L338.8,645.8 L339.3,646.8 L339.7,647.7 L340.1,648.7 L340.6,649.6 L341.0,650.4 L341.4,651.2 L341.9,652.0 L342.3,652.7 L342.7,653.4 L343.2,654.1 L343.6,654.7 L344.0,655.3 L344.5,655.9 L344.9,656.5 L345.3,657.0 L345.8,657.5 L346.2,658.0 L346.6,658.4 L347.1,658.8 L347.5,659.2 L347.9,659.6 L348.4,660.0 L348.8,660.3 L349.2,660.7 L349.7,661.0 L350.1,661.3 L350.5,661.6 L350.9,661.8 L351.4,662.1 L351.8,662.3 L352.2,662.5 L352.7,662.8 L353.1,663.0 L353.5,663.1 L354.0,663.3 L354.4,663.5 L354.8,663.6 L355.3,663.8 L355.7,663.9 L356.1,664.1 L356.6,664.2 L357.0,664.3 L357.4,664.4 L357.9,664.5 L358.3,664.6 L358.7,664.7 L359.2,664.8 L359.6,664.9 L360.0,665.0 L360.5,665.0 L360.9,665.1 L361.3,665.2 L361.8,665.2 L362.2,665.3 L362.6,665.3 L363.1,665.4 L363.5,665.4 L363.9,665.5 L364.4,665.5 L364.8,665.5 L365.2,665.6 L365.7,665.6 L366.1,665.6 L366.5,665.7 L367.0,665.7 L367.4,665.7 L367.8,665.7 L368.3,665.7 L368.7,665.8 L369.1,665.8 L369.6,665.8 L370.0,665.8 L370.4,665.8 L370.9,665.8 L371.3,665.9 L371.7,665.9 L372.2,665.9 L372.6,665.9 L373.0,665.9 L373.5,665.9 L373.9,665.9 L374.3,665.9 L374.7,665.9 L375.2,665.9 L375.6,665.9 L376.0,665.9 L376.5,665.9 L376.9,665.9 L377.3,666.0 L377.8,666.0 L378.2,666.0 L955.5,666.0" stroke="#ff0000"/>
<path d="M90.0,666.0 L286.0,666.0 L286.5,666.0 L286.9,666.0 L287.3,666.0 L287.8,665.9 L288.2,665.9 L288.6,665.9 L289.1,665.9 L289.5,665.9 L289.9,665.9 L290.4,665.9 L290.8,665.9 L291.2,665.9 L291.7,665.9 L292.1,665.9 L292.5,665.9 L293.0,665.9 L293.4,665.8 L293.8,665.8 L294.3,665.8 L294.7,665.8 L295.1,665.8 L295.6,665.8 L296.0,665.8 L296.4,665.7 L296.9,665.7 L297.3,665.7 L297.7,665.7 L298.2,665.6 L298.6,665.6 L299.0,665.6 L299.5,665.5 L299.9,665.5 L300.3,665.5 L300.7,665.4 L301.2,665.4 L301.6,665.3 L302.0,665.3 L302.5,665.2 L302.9,665.2 L303.3,665.1 L303.8,665.1 L304.2,665.0 L304.6,664.9 L305.1,664.8 L305.5,664.8 L305.9,664.7 L306.4,664.6 L306.8,664.5 L307.2,664.4 L307.7,664.3 L308.1,664.1 L308.5,664.0 L309.0,663.9 L309.4,663.7 L309.8,663.6 L310.3,663.4 L310.7,663.3 L311.1,663.1 L311.6,662.9 L312.0,662.7 L312.4,662.5 L312.9,662.2 L313.3,662.0 L313.7,661.7 L314.2,661.5 L314.6,661.2 L315.0,660.9 L315.5,660.5 L315.9,660.2 L316.3,659.9 L316.8,659.5 L317.2,659.1 L317.6,658.7 L318.1,658.2 L318.5,657.8 L318.9,657.3 L319.4,656.8 L319.8,656.2 L320.2,655.7 L320.7,655.1 L321.1,654.5 L321.5,653.8 L322.0,653.1 L322.4,652.4 L322.8,651.7 L323.3,650.9 L323.7,650.1 L324.1,649.2 L324.6,648.3 L325.0,647.4 L325.4,646.4 L325.8,645.4 L326.3,644.3 L326.7,643.2 L327.1,642.0 L327.6,640.8 L328.0,639.5 L328.4,638.2 L328.9,636.8 L329.3,635.4 L329.7,633.9 L330.2,632.3 L330.6,630.7 L331.0,629.1 L331.5,627.3 L331.9,625.5 L332.3,623.6 L332.8,621.7 L333.2,619.7 L333.6,617.6 L334.1,615.5 L334.5,613.2 L334.9,610.9 L335.4,608.5 L335.8,606.0 L336.2,603.5 L336.7,600.9 L337.1,598.1 L337.5,595.3 L338.0,592.4 L338.4,589.5 L338.8,586.4 L339.3,583.2 L339.7,580.0 L340.1,576.6 L340.6,573.2 L341.0,569.6 L341.4,566.0 L341.9,562.3 L342.3,558.4 L342.7,554.5 L343.2,550.5 L343.6,546.3 L344.0,542.1 L344.5,537.8 L344.9,533.4 L345.3,528.8 L345.8,524.2 L346.2,519.5 L346.6,514.7 L347.1,509.8 L347.5,504.7 L347.9,499.6 L348.4,494.4 L348.8,489.1 L349.2,483.7 L349.7,478.2 L350.1,472.7 L350.5,467.0 L350.9,461.3 L351.4,455.4 L351.8,449.5 L352.2,443.5 L352.7,437.4 L353.1,431.3 L353.5,425.1 L354.0,418.8 L354.4,412.4 L354.8,406.0 L355.3,399.5 L355.7,393.0 L356.1,386.4 L356.6,379.8 L357.0,373.1 L357.4,366.4 L357.9,359.6 L358.3,352.9 L358.7,346.1 L359.2,339.2 L359.6,332.4 L360.0,325.5 L360.5,318.7 L360.9,311.8 L361.3,305.0 L361.8,298.1 L362.2,291.3 L362.6,284.5 L363.1,277.7 L363.5,270.9 L363.9,264.2 L364.4,257.6 L364.8,251.0 L365.2,244.4 L365.7,237.9 L366.1,231.5 L366.5,225.1 L367.0,218.9 L367.4,212.7 L367.8,206.6 L368.3,200.6 L368.7,194.7 L369.1,188.9 L369.6,183.3 L370.0,177.7 L370.4,172.3 L370.9,167.1 L371.3,161.9 L371.7,156.9 L372.2,152.1 L372.6,147.4 L373.0,142.9 L373.5,138.5 L373.9,134.3 L374.3,130.3 L374.7,126.5 L375.2,122.8 L375.6,119.4 L376.0,116.1 L376.5,113.0 L376.9,110.2 L377.3,107.5 L377.8,105.0 L378.2,102.7 L378.6,100.7 L379.1,98.9 L379.5,97.2 L379.9,95.8 L380.4,94.6 L380.8,93.7 L381.2,92.9 L381.7,92.4 L382.1,92.1 L382.5,92.0 L383.0,92.1 L383.4,92.5 L383.8,93.1 L384.3,93.9 L384.7,94.9 L385.1,96.2 L385.6,97.6 L386.0,99.3 L386.4,101.2 L386.9,103.3 L387.3,105.6 L387.7,108.2 L388.2,110.9 L388.6,113.8 L389.0,117.0 L389.5,120.3 L389.9,123.8 L390.3,127.5 L390.8,131.4 L391.2,135.4 L391.6,139.7 L392.1,144.1 L392.5,148.6 L392.9,153.4 L393.4,158.2 L393.8,163.3 L394.2,168.4 L394.7,173.8 L395.1,179.2 L395.5,184.8 L396.0,190.5 L396.4,196.3 L396.8,202.2 L397.3,208.2 L397.7,214.3 L398.1,220.5 L398.6,226.8 L399.0,233.2 L399.4,239.6 L399.8,246.1 L400.3,252.7 L400.7,259.3 L401.1,266.0 L401.6,272.7 L402.0,279.5 L402.4,286.3 L402.9,293.1 L403.3,299.9 L403.7,306.8 L404.2,313.6 L404.6,320.5 L405.0,327.4 L405.5,334.2 L405.9,341.0 L406.3,347.9 L406.8,354.7 L407.2,361.4 L407.6,368.2 L408.1,374.9 L408.5,381.5 L408.9,388.2 L409.4,394.7 L409.8,401.3 L410.2,407.7 L410.7,414.1 L411.1,420.5 L411.5,426.7 L412.0,432.9 L412.4,439.1 L412.8,445.1 L413.3,451.1 L413.7,457.0 L414.1,462.8 L414.6,468.5 L415.0,474.2 L415.4,479.7 L415.9,485.2 L416.3,490.6 L416.7,495.8 L417.2,501.0 L417.6,506.1 L418.0,511.1 L418.5,516.0 L418.9,520.8 L419.3,525.5 L419.8,530.1 L420.2,534.6 L420.6,539.0 L421.1,543.3 L421.5,547.5 L421.9,551.6 L422.4,555.6 L422.8,559.5 L423.2,563.3 L423.7,567.0 L424.1,570.6 L424.5,574.1 L424.9,577.5 L425.4,580.8 L425.8,584.1 L426.2,587.2 L426.7,590.3 L427.1,593.2 L427.5,596.1 L428.0,598.9 L428.4,601.6 L428.8,604.2 L429.3,606.7 L429.7,609.2 L430.1,611.5 L430.6,613.8 L431.0,616.0 L431.4,618.2 L431.9,620.2 L432.3,622.2 L432.7,624.2 L433.2,626.0 L433.6,627.8 L434.0,629.5 L434.5,631.2 L434.9,632.8 L435.3,634.3 L435.8,635.8 L436.2,637.2 L436.6,638.5 L437.1,639.9 L437.5,641.1 L437.9,642.3 L438.4,643.5 L438.8,644.6 L439.2,645.6 L439.7,646.6 L440.1,647.6 L440.5,648.5 L441.0,649.4 L441.4,650.3 L441.8,651.1 L442.3,651.9 L442.7,652.6 L443.1,653.3 L443.6,654.0 L444.0,654.6 L444.4,655.3 L444.9,655.8 L445.3,656.4 L445.7,656.9 L446.2,657.4 L446.6,657.9 L447.0,658.4 L447.5,658.8 L447.9,659.2 L448.3,659.6 L448.7,660.0 L449.2,660.3 L449.6,660.6 L450.0,660.9 L450.5,661.2 L450.9,661.5 L451.3,661.8 L451.8,662.0 L452.2,662.3 L452.6,662.5 L453.1,662.7 L453.5,662.9 L453.9,663.1 L454.4,663.3 L454.8,663.5 L455.2,663.6 L455.7,663.8 L456.1,663.9 L456.5,664.1 L457.0,664.2 L457.4,664.3 L457.8,664.4 L458.3,664.5 L458.7,664.6 L459.1,664.7 L459.6,664.8 L460.0,664.9 L460.4,664.9 L460.9,665.0 L461.3,665.1 L461.7,665.1 L462.2,665.2 L462.6,665.3 L463.0,665.3 L463.5,665.4 L463.9,665.4 L464.3,665.4 L464.8,665.5 L465.2,665.5 L465.6,665.6 L466.1,665.6 L466.5,665.6 L466.9,665.6 L467.4,665.7 L467.8,665.7 L468.2,665.7 L468.7,665.7 L469.1,665.8 L469.5,665.8 L470.0,665.8 L470.4,665.8 L470.8,665.8 L471.3,665.8 L471.7,665.9 L472.1,665.9 L472.6,665.9 L473.0,665.9 L473.4,665.9 L473.8,665.9 L474.3,665.9 L474.7,665.9 L475.1,665.9 L475.6,665.9 L476.0,665.9 L476.4,665.9 L476.9,665.9 L477.3,665.9 L477.7,666.0 L478.2,666.0 L478.6,666.0 L955.5,666.0" stroke="#ff0000" stroke-dasharray="16.4 15.5"/>
<path d="M90.0,666.0 L376.9,666.0 L377.3,666.0 L377.8,666.0 L378.2,666.0 L378.6,665.9 L379.1,665.9 L379.5,665.9 L379.9,665.9 L380.4,665.9 L380.8,665.9 L381.2,665.9 L381.7,665.9 L382.1,665.9 L382.5,665.9 L383.0,665.9 L383.4,665.9 L383.8,665.9 L384.3,665.8 L384.7,665.8 L385.1,665.8 L385.6,665.8 L386.0,665.8 L386.4,665.8 L386.9,665.8 L387.3,665.7 L387.7,665.7 L388.2,665.7 L388.6,665.7 L389.0,665.6 L389.5,665.6 L389.9,665.6 L390.3,665.6 L390.8,665.5 L391.2,665.5 L391.6,665.4 L392.1,665.4 L392.5,665.4 L392.9,665.3 L393.4,665.3 L393.8,665.2 L394.2,665.1 L394.7,665.1 L395.1,665.0 L395.5,664.9 L396.0,664.9 L396.4,664.8 L396.8,664.7 L397.3,664.6 L397.7,664.5 L398.1,664.4 L398.6,664.3 L399.0,664.2 L399.4,664.0 L399.8,663.9 L400.3,663.8 L400.7,663.6 L401.1,663.4 L401.6,663.3 L402.0,663.1 L402.4,662.9 L402.9,662.7 L403.3,662.5 L403.7,662.3 L404.2,662.0 L404.6,661.8 L405.0,661.5 L405.5,661.2 L405.9,660.9 L406.3,660.6 L406.8,660.3 L407.2,659.9 L407.6,659.5 L408.1,659.1 L408.5,658.7 L408.9,658.3 L409.4,657.8 L409.8,657.4 L410.2,656.8 L410.7,656.3 L411.1,655.8 L411.5,655.2 L412.0,654.6 L412.4,653.9 L412.8,653.2 L413.3,652.5 L413.7,651.8 L414.1,651.0 L414.6,650.2 L415.0,649.3 L415.4,648.4 L415.9,647.5 L416.3,646.5 L416.7,645.5 L417.2,644.4 L417.6,643.3 L418.0,642.2 L418.5,640.9 L418.9,639.7 L419.3,638.4 L419.8,637.0 L420.2,635.6 L420.6,634.1 L421.1,632.6 L421.5,631.0 L421.9,629.3 L422.4,627.6 L422.8,625.8 L423.2,623.9 L423.7,622.0 L424.1,620.0 L424.5,617.9 L424.9,615.7 L425.4,613.5 L425.8,611.2 L426.2,608.8 L426.7,606.4 L427.1,603.8 L427.5,601.2 L428.0,598.5 L428.4,595.7 L428.8,592.8 L429.3,589.9 L429.7,586.8 L430.1,583.6 L430.6,580.4 L431.0,577.1 L431.4,573.6 L431.9,570.1 L432.3,566.5 L432.7,562.8 L433.2,558.9 L433.6,555.0 L434.0,551.0 L434.5,546.9 L434.9,542.7 L435.3,538.4 L435.8,534.0 L436.2,529.5 L436.6,524.8 L437.1,520.1 L437.5,515.3 L437.9,510.4 L438.4,505.4 L438.8,500.3 L439.2,495.1 L439.7,489.8 L440.1,484.5 L440.5,479.0 L441.0,473.4 L441.4,467.8 L441.8,462.0 L442.3,456.2 L442.7,450.3 L443.1,444.3 L443.6,438.2 L444.0,432.1 L444.4,425.9 L444.9,419.6 L445.3,413.3 L445.7,406.9 L446.2,400.4 L446.6,393.9 L447.0,387.3 L447.5,380.7 L447.9,374.0 L448.3,367.3 L448.7,360.5 L449.2,353.8 L449.6,347.0 L450.0,340.1 L450.5,333.3 L450.9,326.4 L451.3,319.6 L451.8,312.7 L452.2,305.9 L452.6,299.0 L453.1,292.2 L453.5,285.4 L453.9,278.6 L454.4,271.8 L454.8,265.1 L455.2,258.5 L455.7,251.8 L456.1,245.3 L456.5,238.8 L457.0,232.3 L457.4,226.0 L457.8,219.7 L458.3,213.5 L458.7,207.4 L459.1,201.4 L459.6,195.5 L460.0,189.7 L460.4,184.0 L460.9,178.5 L461.3,173.0 L461.7,167.8 L462.2,162.6 L462.6,157.6 L463.0,152.7 L463.5,148.0 L463.9,143.5 L464.3,139.1 L464.8,134.9 L465.2,130.8 L465.6,127.0 L466.1,123.3 L466.5,119.8 L466.9,116.5 L467.4,113.4 L467.8,110.5 L468.2,107.8 L468.7,105.3 L469.1,103.0 L469.5,101.0 L470.0,99.1 L470.4,97.4 L470.8,96.0 L471.3,94.8 L471.7,93.8 L472.1,93.0 L472.6,92.4 L473.0,92.1 L473.4,92.0 L473.8,92.1 L474.3,92.4 L474.7,93.0 L475.1,93.8 L475.6,94.8 L476.0,96.0 L476.4,97.4 L476.9,99.1 L477.3,101.0 L477.7,103.0 L478.2,105.3 L478.6,107.8 L479.0,110.5 L479.5,113.4 L479.9,116.5 L480.3,119.8 L480.8,123.3 L481.2,127.0 L481.6,130.8 L482.1,134.9 L482.5,139.1 L482.9,143.5 L483.4,148.0 L483.8,152.7 L484.2,157.6 L484.7,162.6 L485.1,167.8 L485.5,173.0 L486.0,178.5 L486.4,184.0 L486.8,189.7 L487.3,195.5 L487.7,201.4 L488.1,207.4 L488.6,213.5 L489.0,219.7 L489.4,226.0 L489.9,232.3 L490.3,238.8 L490.7,245.3 L491.2,251.8 L491.6,258.5 L492.0,265.1 L492.5,271.8 L492.9,278.6 L493.3,285.4 L493.8,292.2 L494.2,299.0 L494.6,305.9 L495.1,312.7 L495.5,319.6 L495.9,326.4 L496.4,333.3 L496.8,340.1 L497.2,347.0 L497.7,353.8 L498.1,360.5 L498.5,367.3 L498.9,374.0 L499.4,380.7 L499.8,387.3 L500.2,393.9 L500.7,400.4 L501.1,406.9 L501.5,413.3 L502.0,419.6 L502.4,425.9 L502.8,432.1 L503.3,438.2 L503.7,444.3 L504.1,450.3 L504.6,456.2 L505.0,462.0 L505.4,467.8 L505.9,473.4 L506.3,479.0 L506.7,484.5 L507.2,489.8 L507.6,495.1 L508.0,500.3 L508.5,505.4 L508.9,510.4 L509.3,515.3 L509.8,520.1 L510.2,524.8 L510.6,529.5 L511.1,534.0 L511.5,538.4 L511.9,542.7 L512.4,546.9 L512.8,551.0 L513.2,555.0 L513.7,558.9 L514.1,562.8 L514.5,566.5 L515.0,570.1 L515.4,573.6 L515.8,577.1 L516.3,580.4 L516.7,583.6 L517.1,586.8 L517.6,589.9 L518.0,592.8 L518.4,595.7 L518.9,598.5 L519.3,601.2 L519.7,603.8 L520.2,606.4 L520.6,608.8 L521.0,611.2 L521.5,613.5 L521.9,615.7 L522.3,617.9 L522.8,620.0 L523.2,622.0 L523.6,623.9 L524.0,625.8 L524.5,627.6 L524.9,629.3 L525.3,631.0 L525.8,632.6 L526.2,634.1 L526.6,635.6 L527.1,637.0 L527.5,638.4 L527.9,639.7 L528.4,640.9 L528.8,642.2 L529.2,643.3 L529.7,644.4 L530.1,645.5 L530.5,646.5 L531.0,647.5 L531.4,648.4 L531.8,649.3 L532.3,650.2 L532.7,651.0 L533.1,651.8 L533.6,652.5 L534.0,653.2 L534.4,653.9 L534.9,654.6 L535.3,655.2 L535.7,655.8 L536.2,656.3 L536.6,656.8 L537.0,657.4 L537.5,657.8 L537.9,658.3 L538.3,658.7 L538.8,659.1 L539.2,659.5 L539.6,659.9 L540.1,660.3 L540.5,660.6 L540.9,660.9 L541.4,661.2 L541.8,661.5 L542.2,661.8 L542.7,662.0 L543.1,662.3 L543.5,662.5 L544.0,662.7 L544.4,662.9 L544.8,663.1 L545.3,663.3 L545.7,663.4 L546.1,663.6 L546.6,663.8 L547.0,663.9 L547.4,664.0 L547.8,664.2 L548.3,664.3 L548.7,664.4 L549.1,664.5 L549.6,664.6 L550.0,664.7 L550.4,664.8 L550.9,664.9 L551.3,664.9 L551.7,665.0 L552.2,665.1 L552.6,665.1 L553.0,665.2 L553.5,665.3 L553.9,665.3 L554.3,665.4 L554.8,665.4 L555.2,665.4 L555.6,665.5 L556.1,665.5 L556.5,665.6 L556.9,665.6 L557.4,665.6 L557.8,665.6 L558.2,665.7 L558.7,665.7 L559.1,665.7 L559.5,665.7 L560.0,665.8 L560.4,665.8 L560.8,665.8 L561.3,665.8 L561.7,665.8 L562.1,665.8 L562.6,665.8 L563.0,665.9 L563.4,665.9 L563.9,665.9 L564.3,665.9 L564.7,665.9 L565.2,665.9 L565.6,665.9 L566.0,665.9 L566.5,665.9 L566.9,665.9 L567.3,665.9 L567.8,665.9 L568.2,665.9 L568.6,666.0 L569.1,666.0 L569.5,666.0 L569.9,666.0 L955.5,666.0" stroke="#ff0000" stroke-dasharray="3.7 4.275"/>
<path d="M90.0,666.0 L185.6,666.0 L186.1,666.0 L186.5,665.9 L186.9,665.9 L187.4,665.9 L187.8,665.9 L188.2,665.8 L188.7,665.8 L189.1,665.8 L189.5,665.7 L190.0,665.7 L190.4,665.6 L190.8,665.6 L191.3,665.5 L191.7,665.5 L192.1,665.4 L192.6,665.3 L193.0,665.2 L193.4,665.1 L193.9,665.1 L194.3,665.0 L194.7,664.8 L195.2,664.7 L195.6,664.6 L196.0,664.5 L196.5,664.3 L196.9,664.2 L197.3,664.0 L197.8,663.9 L198.2,663.7 L198.6,663.5 L199.1,663.4 L199.5,663.2 L199.9,663.0 L200.4,662.8 L200.8,662.6 L201.2,662.4 L201.6,662.2 L202.1,662.0 L202.5,661.8 L202.9,661.6 L203.4,661.4 L203.8,661.2 L204.2,660.9 L204.7,660.7 L205.1,660.5 L205.5,660.2 L206.0,660.0 L206.4,659.7 L206.8,659.4 L207.3,659.1 L207.7,658.8 L208.1,658.5 L208.6,658.2 L209.0,657.8 L209.4,657.4 L209.9,657.1 L210.3,656.7 L210.7,656.3 L211.2,655.9 L211.6,655.4 L212.0,655.0 L212.5,654.5 L212.9,654.0 L213.3,653.5 L213.8,653.0 L214.2,652.4 L214.6,651.9 L215.1,651.3 L215.5,650.7 L215.9,650.0 L216.4,649.4 L216.8,648.7 L217.2,648.0 L217.7,647.2 L218.1,646.5 L218.5,645.7 L219.0,644.9 L219.4,644.0 L219.8,643.1 L220.3,642.2 L220.7,641.3 L221.1,640.3 L221.6,639.3 L222.0,638.3 L222.4,637.2 L222.9,636.1 L223.3,634.9 L223.7,633.8 L224.2,632.5 L224.6,631.3 L225.0,630.0 L225.5,628.6 L225.9,627.2 L226.3,625.8 L226.7,624.3 L227.2,622.8 L227.6,621.2 L228.0,619.6 L228.5,617.9 L228.9,616.2 L229.3,614.5 L229.8,612.7 L230.2,610.8 L230.6,608.9 L231.1,606.9 L231.5,604.9 L231.9,602.8 L232.4,600.6 L232.8,598.4 L233.2,596.2 L233.7,593.9 L234.1,591.5 L234.5,589.0 L235.0,586.5 L235.4,584.0 L235.8,581.4 L236.3,578.7 L236.7,575.9 L237.1,573.1 L237.6,570.2 L238.0,567.3 L238.4,564.2 L238.9,561.2 L239.3,558.0 L239.7,554.8 L240.2,551.5 L240.6,548.1 L241.0,544.7 L241.5,541.2 L241.9,537.6 L242.3,534.0 L242.8,530.3 L243.2,526.5 L243.6,522.6 L244.1,518.7 L244.5,514.7 L244.9,510.6 L245.4,506.5 L245.8,502.3 L246.2,498.0 L246.7,493.6 L247.1,489.2 L247.5,484.7 L248.0,480.2 L248.4,475.5 L248.8,470.8 L249.3,466.1 L249.7,461.2 L250.1,456.3 L250.6,451.4 L251.0,446.3 L251.4,441.3 L251.8,436.1 L252.3,430.9 L252.7,425.6 L253.1,420.3 L253.6,414.9 L254.0,409.5 L254.4,404.0 L254.9,398.5 L255.3,392.9 L255.7,387.3 L256.2,381.6 L256.6,375.9 L257.0,370.2 L257.5,364.4 L257.9,358.6 L258.3,352.8 L258.8,346.9 L259.2,341.0 L259.6,335.1 L260.1,329.2 L260.5,323.2 L260.9,317.3 L261.4,311.3 L261.8,305.4 L262.2,299.4 L262.7,293.5 L263.1,287.5 L263.5,281.6 L264.0,275.7 L264.4,269.8 L264.8,263.9 L265.3,258.1 L265.7,252.3 L266.1,246.6 L266.6,240.9 L267.0,235.2 L267.4,229.6 L267.9,224.1 L268.3,218.6 L268.7,213.2 L269.2,207.8 L269.6,202.6 L270.0,197.4 L270.5,192.3 L270.9,187.3 L271.3,182.4 L271.8,177.7 L272.2,173.0 L272.6,168.4 L273.1,164.0 L273.5,159.6 L273.9,155.4 L274.4,151.4 L274.8,147.5 L275.2,143.7 L275.6,140.0 L276.1,136.5 L276.5,133.2 L276.9,130.0 L277.4,126.9 L277.8,124.1 L278.2,121.4 L278.7,118.8 L279.1,116.4 L279.5,114.2 L280.0,112.2 L280.4,110.4 L280.8,108.7 L281.3,107.2 L281.7,105.9 L282.1,104.8 L282.6,103.9 L283.0,103.1 L283.4,102.6 L283.9,102.2 L284.3,102.0 L284.7,102.0 L285.2,102.2 L285.6,102.6 L286.0,103.2 L286.5,104.0 L286.9,104.9 L287.3,106.1 L287.8,107.5 L288.2,109.0 L288.6,110.7 L289.1,112.7 L289.5,114.8 L289.9,117.1 L290.4,119.6 L290.8,122.3 L291.2,125.2 L291.7,128.2 L292.1,131.5 L292.5,134.9 L293.0,138.5 L293.4,142.3 L293.8,146.3 L294.3,150.5 L294.7,154.8 L295.1,159.3 L295.6,164.0 L296.0,168.9 L296.4,173.9 L296.9,179.1 L297.3,184.5 L297.7,190.0 L298.2,195.6 L298.6,201.5 L299.0,207.4 L299.5,213.5 L299.9,219.8 L300.3,226.2 L300.7,232.7 L301.2,239.3 L301.6,246.1 L302.0,253.0 L302.5,260.0 L302.9,267.1 L303.3,274.3 L303.8,281.6 L304.2,289.0 L304.6,296.5 L305.1,304.0 L305.5,311.7 L305.9,319.3 L306.4,327.1 L306.8,334.9 L307.2,342.8 L307.7,350.6 L308.1,358.6 L308.5,366.5 L309.0,374.5 L309.4,382.5 L309.8,390.5 L310.3,398.5 L310.7,406.4 L311.1,414.4 L311.6,422.4 L312.0,430.3 L312.4,438.2 L312.9,446.0 L313.3,453.8 L313.7,461.6 L314.2,469.3 L314.6,476.9 L315.0,484.4 L315.5,491.9 L315.9,499.3 L316.3,506.6 L316.8,513.8 L317.2,520.9 L317.6,527.9 L318.1,534.8 L318.5,541.6 L318.9,548.2 L319.4,554.7 L319.8,561.1 L320.2,567.4 L320.7,573.5 L321.1,579.5 L321.5,585.3 L322.0,591.0 L322.4,596.6 L322.8,602.0 L323.3,607.2 L323.7,612.3 L324.1,617.2 L324.6,622.0 L325.0,626.6 L325.4,631.0 L325.8,635.3 L326.3,639.4 L326.7,643.3 L327.1,647.1 L327.6,650.7 L328.0,654.2 L328.4,657.5 L328.9,660.6 L329.3,663.6 L329.7,665.6 L330.2,663.0 L330.6,660.5 L331.0,658.2 L331.5,656.0 L331.9,654.0 L332.3,652.1 L332.8,650.3 L333.2,648.7 L333.6,647.3 L334.1,646.0 L334.5,644.8 L334.9,643.7 L335.4,642.8 L335.8,641.9 L336.2,641.2 L336.7,640.6 L337.1,640.2 L337.5,639.8 L338.0,639.5 L338.4,639.3 L338.8,639.2 L339.3,639.2 L339.7,639.3 L340.1,639.4 L340.6,639.7 L341.0,639.9 L341.4,640.3 L341.9,640.7 L342.3,641.2 L342.7,641.7 L343.2,642.2 L343.6,642.8 L344.0,643.5 L344.5,644.1 L344.9,644.8 L345.3,645.6 L345.8,646.3 L346.2,647.1 L346.6,647.9 L347.1,648.7 L347.5,649.5 L347.9,650.3 L348.4,651.2 L348.8,652.0 L349.2,652.8 L349.7,653.6 L350.1,654.4 L350.5,655.3 L350.9,656.1 L351.4,656.8 L351.8,657.6 L352.2,658.4 L352.7,659.1 L353.1,659.8 L353.5,660.5 L354.0,661.2 L354.4,661.9 L354.8,662.5 L355.3,663.1 L355.7,663.7 L356.1,664.2 L356.6,664.8 L357.0,665.3 L357.4,665.8 L357.9,665.8 L358.3,665.4 L358.7,665.0 L359.2,664.6 L359.6,664.3 L360.0,663.9 L360.5,663.6 L360.9,663.4 L361.3,663.1 L361.8,662.9 L362.2,662.7 L362.6,662.6 L363.1,662.4 L363.5,662.3 L363.9,662.2 L364.4,662.1 L364.8,662.1 L365.2,662.0 L365.7,662.0 L366.1,662.0 L366.5,662.0 L367.0,662.1 L367.4,662.1 L367.8,662.2 L368.3,662.3 L368.7,662.4 L369.1,662.5 L369.6,662.6 L370.0,662.7 L370.4,662.8 L370.9,663.0 L371.3,663.1 L371.7,663.3 L372.2,663.4 L372.6,663.6 L373.0,663.7 L373.5,663.9 L373.9,664.1 L374.3,664.2 L374.7,664.4 L375.2,664.5 L375.6,664.7 L376.0,664.8 L376.5,665.0 L376.9,665.1 L377.3,665.2 L377.8,665.4 L378.2,665.5 L378.6,665.6 L379.1,665.7 L379.5,665.8 L379.9,665.9 L380.4,666.0 L380.8,665.9 L381.2,665.8 L381.7,665.7 L382.1,665.7 L382.5,665.6 L383.0,665.6 L383.4,665.5 L383.8,665.5 L384.3,665.4 L384.7,665.4 L385.1,665.4 L385.6,665.4 L386.0,665.4 L386.4,665.3 L386.9,665.3 L387.3,665.3 L387.7,665.3 L388.2,665.4 L388.6,665.4 L389.0,665.4 L389.5,665.4 L389.9,665.4 L390.3,665.4 L390.8,665.5 L391.2,665.5 L391.6,665.5 L392.1,665.5 L392.5,665.6 L392.9,665.6 L393.4,665.6 L393.8,665.6 L394.2,665.7 L394.7,665.7 L395.1,665.7 L395.5,665.8 L396.0,665.8 L396.4,665.8 L396.8,665.8 L397.3,665.9 L397.7,665.9 L398.1,665.9 L398.6,665.9 L399.0,666.0 L399.4,666.0 L400.7,666.0 L401.1,666.0 L401.6,665.9 L402.0,665.9 L402.4,665.9 L402.9,665.9 L403.3,665.9 L403.7,665.9 L404.2,665.9 L404.6,665.9 L405.0,665.9 L405.5,665.9 L405.9,665.9 L406.3,665.9 L406.8,665.9 L407.2,665.9 L407.6,665.9 L408.1,665.9 L408.5,665.9 L408.9,665.9 L409.4,665.9 L409.8,665.9 L410.2,665.9 L410.7,665.9 L411.1,665.9 L411.5,665.9 L412.0,665.9 L412.4,665.9 L412.8,665.9 L413.3,666.0 L413.7,666.0 L414.1,666.0 L955.5,666.0" stroke="#00ff00"/>
<path d="M90.0,666.0 L286.5,666.0 L286.9,665.9 L287.3,665.9 L287.8,665.9 L288.2,665.9 L288.6,665.8 L289.1,665.8 L289.5,665.7 L289.9,665.6 L290.4,665.6 L290.8,665.5 L291.2,665.4 L291.7,665.3 L292.1,665.2 L292.5,665.1 L293.0,665.0 L293.4,664.8 L293.8,664.7 L294.3,664.5 L294.7,664.4 L295.1,664.2 L295.6,664.0 L296.0,663.8 L296.4,663.6 L296.9,663.4 L297.3,663.1 L297.7,662.9 L298.2,662.7 L298.6,662.4 L299.0,662.1 L299.5,661.8 L299.9,661.5 L300.3,661.2 L300.7,660.9 L301.2,660.6 L301.6,660.3 L302.0,660.0 L302.5,659.6 L302.9,659.3 L303.3,659.0 L303.8,658.7 L304.2,658.3 L304.6,658.0 L305.1,657.7 L305.5,657.4 L305.9,657.1 L306.4,656.8 L306.8,656.4 L307.2,656.1 L307.7,655.7 L308.1,655.3 L308.5,654.9 L309.0,654.5 L309.4,654.1 L309.8,653.7 L310.3,653.2 L310.7,652.7 L311.1,652.3 L311.6,651.8 L312.0,651.3 L312.4,650.7 L312.9,650.2 L313.3,649.6 L313.7,649.1 L314.2,648.5 L314.6,647.9 L315.0,647.2 L315.5,646.6 L315.9,645.9 L316.3,645.2 L316.8,644.5 L317.2,643.8 L317.6,643.0 L318.1,642.2 L318.5,641.3 L318.9,640.5 L319.4,639.6 L319.8,638.7 L320.2,637.8 L320.7,636.8 L321.1,635.8 L321.5,634.8 L322.0,633.7 L322.4,632.6 L322.8,631.5 L323.3,630.4 L323.7,629.2 L324.1,628.0 L324.6,626.7 L325.0,625.4 L325.4,624.1 L325.8,622.7 L326.3,621.3 L326.7,619.9 L327.1,618.4 L327.6,616.9 L328.0,615.3 L328.4,613.7 L328.9,612.1 L329.3,610.4 L329.7,608.7 L330.2,606.9 L330.6,605.0 L331.0,603.2 L331.5,601.2 L331.9,599.3 L332.3,597.2 L332.8,595.2 L333.2,593.0 L333.6,590.8 L334.1,588.6 L334.5,586.3 L334.9,584.0 L335.4,581.6 L335.8,579.1 L336.2,576.6 L336.7,574.0 L337.1,571.4 L337.5,568.7 L338.0,565.9 L338.4,563.1 L338.8,560.3 L339.3,557.3 L339.7,554.3 L340.1,551.3 L340.6,548.1 L341.0,545.0 L341.4,541.7 L341.9,538.4 L342.3,535.0 L342.7,531.6 L343.2,528.1 L343.6,524.5 L344.0,520.9 L344.5,517.2 L344.9,513.4 L345.3,509.6 L345.8,505.7 L346.2,501.8 L346.6,497.8 L347.1,493.7 L347.5,489.6 L347.9,485.4 L348.4,481.1 L348.8,476.8 L349.2,472.5 L349.7,468.0 L350.1,463.6 L350.5,459.0 L350.9,454.4 L351.4,449.8 L351.8,445.1 L352.2,440.3 L352.7,435.5 L353.1,430.7 L353.5,425.8 L354.0,420.9 L354.4,415.9 L354.8,410.9 L355.3,405.8 L355.7,400.7 L356.1,395.5 L356.6,390.3 L357.0,385.1 L357.4,379.9 L357.9,374.6 L358.3,369.3 L358.7,364.0 L359.2,358.6 L359.6,353.2 L360.0,347.8 L360.5,342.4 L360.9,337.0 L361.3,331.5 L361.8,326.1 L362.2,320.6 L362.6,315.1 L363.1,309.6 L363.5,304.2 L363.9,298.7 L364.4,293.2 L364.8,287.8 L365.2,282.4 L365.7,276.9 L366.1,271.5 L366.5,266.1 L367.0,260.8 L367.4,255.5 L367.8,250.2 L368.3,244.9 L368.7,239.7 L369.1,234.6 L369.6,229.4 L370.0,224.4 L370.4,219.4 L370.9,214.4 L371.3,209.6 L371.7,204.8 L372.2,200.0 L372.6,195.4 L373.0,190.8 L373.5,186.3 L373.9,181.9 L374.3,177.6 L374.7,173.5 L375.2,169.4 L375.6,165.4 L376.0,161.5 L376.5,157.8 L376.9,154.2 L377.3,150.7 L377.8,147.3 L378.2,144.1 L378.6,141.0 L379.1,138.1 L379.5,135.3 L379.9,132.7 L380.4,130.2 L380.8,127.8 L381.2,125.7 L381.7,123.6 L382.1,121.8 L382.5,120.1 L383.0,118.6 L383.4,117.3 L383.8,116.1 L384.3,115.2 L384.7,114.4 L385.1,113.7 L385.6,113.3 L386.0,113.2 L386.4,113.3 L386.9,113.6 L387.3,114.0 L387.7,114.7 L388.2,115.5 L388.6,116.5 L389.0,117.7 L389.5,119.1 L389.9,120.6 L390.3,122.4 L390.8,124.3 L391.2,126.5 L391.6,128.8 L392.1,131.2 L392.5,133.9 L392.9,136.8 L393.4,139.8 L393.8,143.0 L394.2,146.4 L394.7,150.0 L395.1,153.7 L395.5,157.7 L396.0,161.8 L396.4,166.1 L396.8,170.5 L397.3,175.1 L397.7,179.9 L398.1,184.9 L398.6,190.0 L399.0,195.3 L399.4,200.7 L399.8,206.3 L400.3,212.1 L400.7,218.0 L401.1,224.1 L401.6,230.3 L402.0,236.6 L402.4,243.1 L402.9,249.8 L403.3,256.6 L403.7,263.5 L404.2,270.5 L404.6,277.6 L405.0,284.9 L405.5,292.3 L405.9,299.8 L406.3,307.4 L406.8,315.1 L407.2,322.8 L407.6,330.7 L408.1,338.6 L408.5,346.6 L408.9,354.7 L409.4,362.8 L409.8,371.0 L410.2,379.2 L410.7,387.4 L411.1,395.7 L411.5,404.0 L412.0,412.3 L412.4,420.6 L412.8,428.9 L413.3,437.1 L413.7,445.4 L414.1,453.6 L414.6,461.8 L415.0,470.0 L415.4,478.1 L415.9,486.1 L416.3,494.1 L416.7,502.0 L417.2,509.8 L417.6,517.5 L418.0,525.1 L418.5,532.7 L418.9,540.1 L419.3,547.4 L419.8,554.6 L420.2,561.6 L420.6,568.6 L421.1,575.4 L421.5,582.0 L421.9,588.5 L422.4,594.9 L422.8,601.1 L423.2,607.2 L423.7,613.1 L424.1,618.8 L424.5,624.4 L424.9,629.8 L425.4,635.1 L425.8,640.2 L426.2,645.1 L426.7,649.8 L427.1,654.4 L427.5,658.8 L428.0,663.1 L428.4,664.9 L428.8,661.0 L429.3,657.2 L429.7,653.7 L430.1,650.3 L430.6,647.0 L431.0,644.0 L431.4,641.1 L431.9,638.3 L432.3,635.7 L432.7,633.3 L433.2,631.0 L433.6,628.9 L434.0,627.0 L434.5,625.1 L434.9,623.5 L435.3,621.9 L435.8,620.5 L436.2,619.3 L436.6,618.2 L437.1,617.2 L437.5,616.3 L437.9,615.6 L438.4,615.0 L438.8,614.5 L439.2,614.1 L439.7,613.9 L440.1,613.7 L440.5,613.7 L441.0,613.8 L441.4,613.9 L441.8,614.2 L442.3,614.6 L442.7,615.0 L443.1,615.5 L443.6,616.2 L444.0,616.9 L444.4,617.6 L444.9,618.5 L445.3,619.4 L445.7,620.4 L446.2,621.4 L446.6,622.5 L447.0,623.7 L447.5,624.9 L447.9,626.1 L448.3,627.4 L448.7,628.8 L449.2,630.1 L449.6,631.5 L450.0,633.0 L450.5,634.4 L450.9,635.9 L451.3,637.4 L451.8,638.9 L452.2,640.4 L452.6,641.9 L453.1,643.5 L453.5,645.0 L453.9,646.5 L454.4,648.0 L454.8,649.5 L455.2,651.0 L455.7,652.5 L456.1,654.0 L456.5,655.4 L457.0,656.8 L457.4,658.2 L457.8,659.5 L458.3,660.8 L458.7,662.1 L459.1,663.3 L459.6,664.5 L460.0,665.7 L460.4,665.2 L460.9,664.1 L461.3,663.1 L461.7,662.2 L462.2,661.2 L462.6,660.4 L463.0,659.6 L463.5,658.8 L463.9,658.1 L464.3,657.4 L464.8,656.8 L465.2,656.3 L465.6,655.8 L466.1,655.3 L466.5,654.9 L466.9,654.6 L467.4,654.3 L467.8,654.0 L468.2,653.8 L468.7,653.7 L469.1,653.6 L469.5,653.5 L470.0,653.5 L470.4,653.5 L470.8,653.6 L471.3,653.7 L471.7,653.9 L472.1,654.0 L472.6,654.3 L473.0,654.5 L473.4,654.8 L473.8,655.1 L474.3,655.4 L474.7,655.7 L475.1,656.1 L475.6,656.5 L476.0,656.9 L476.4,657.3 L476.9,657.7 L477.3,658.2 L477.7,658.6 L478.2,659.1 L478.6,659.6 L479.0,660.0 L479.5,660.5 L479.9,661.0 L480.3,661.4 L480.8,661.9 L481.2,662.4 L481.6,662.8 L482.1,663.3 L482.5,663.7 L482.9,664.1 L483.4,664.6 L483.8,665.0 L484.2,665.4 L484.7,665.8 L485.1,665.9 L485.5,665.5 L486.0,665.2 L486.4,664.8 L486.8,664.5 L487.3,664.2 L487.7,664.0 L488.1,663.7 L488.6,663.5 L489.0,663.3 L489.4,663.1 L489.9,662.9 L490.3,662.7 L490.7,662.6 L491.2,662.4 L491.6,662.3 L492.0,662.2 L492.5,662.2 L492.9,662.1 L493.3,662.1 L493.8,662.0 L494.2,662.0 L494.6,662.0 L495.1,662.1 L495.5,662.1 L495.9,662.2 L496.4,662.2 L496.8,662.3 L497.2,662.4 L497.7,662.5 L498.1,662.7 L498.5,662.8 L498.9,662.9 L499.4,663.1 L499.8,663.2 L500.2,663.4 L500.7,663.6 L501.1,663.7 L501.5,663.9 L502.0,664.1 L502.4,664.2 L502.8,664.4 L503.3,664.6 L503.7,664.8 L504.1,664.9 L504.6,665.1 L505.0,665.3 L505.4,665.4 L505.9,665.6 L506.3,665.7 L506.7,665.9 L507.2,666.0 L507.6,665.8 L508.0,665.7 L508.5,665.6 L508.9,665.5 L509.3,665.4 L509.8,665.3 L510.2,665.2 L510.6,665.1 L511.1,665.0 L511.5,665.0 L511.9,664.9 L512.4,664.9 L512.8,664.8 L513.2,664.8 L513.7,664.8 L514.1,664.7 L514.5,664.7 L515.0,664.7 L515.4,664.7 L515.8,664.7 L516.3,664.8 L516.7,664.8 L517.1,664.8 L517.6,664.8 L518.0,664.9 L518.4,664.9 L518.9,664.9 L519.3,665.0 L519.7,665.0 L520.2,665.1 L520.6,665.2 L521.0,665.2 L521.5,665.3 L521.9,665.3 L522.3,665.4 L522.8,665.4 L523.2,665.5 L523.6,665.6 L524.0,665.6 L524.5,665.7 L524.9,665.7 L525.3,665.8 L525.8,665.9 L526.2,665.9 L526.6,666.0 L527.1,666.0 L527.5,665.9 L527.9,665.9 L528.4,665.8 L528.8,665.8 L529.2,665.8 L529.7,665.7 L530.1,665.7 L530.5,665.7 L531.0,665.7 L531.4,665.6 L531.8,665.6 L532.3,665.6 L532.7,665.6 L533.1,665.6 L533.6,665.6 L534.0,665.6 L534.4,665.6 L534.9,665.6 L535.3,665.6 L535.7,665.6 L536.2,665.6 L536.6,665.6 L537.0,665.6 L537.5,665.6 L537.9,665.6 L538.3,665.7 L538.8,665.7 L539.2,665.7 L539.6,665.7 L540.1,665.7 L540.5,665.8 L540.9,665.8 L541.4,665.8 L541.8,665.8 L542.2,665.9 L542.7,665.9 L543.1,665.9 L543.5,665.9 L544.0,665.9 L544.4,666.0 L546.1,666.0 L546.6,666.0 L547.0,665.9 L547.4,665.9 L547.8,665.9 L548.3,665.9 L548.7,665.9 L549.1,665.9 L549.6,665.9 L550.0,665.9 L550.4,665.9 L550.9,665.9 L551.3,665.9 L551.7,665.9 L552.2,665.8 L552.6,665.8 L553.0,665.9 L553.5,665.9 L553.9,665.9 L554.3,665.9 L554.8,665.9 L555.2,665.9 L555.6,665.9 L556.1,665.9 L556.5,665.9 L556.9,665.9 L557.4,665.9 L557.8,665.9 L558.2,665.9 L558.7,665.9 L559.1,665.9 L559.5,665.9 L560.0,666.0 L560.4,666.0 L565.6,666.0 L566.0,666.0 L566.5,666.0 L566.9,666.0 L567.3,665.9 L567.8,665.9 L568.2,665.9 L568.6,665.9 L569.1,665.9 L569.5,665.9 L569.9,665.9 L570.4,665.9 L570.8,665.9 L571.2,665.9 L571.7,666.0 L572.1,666.0 L572.5,666.0 L572.9,666.0 L573.4,666.0 L955.5,666.0" stroke="#00ff00" stroke-dasharray="16.4 15.5"/>
<path d="M90.0,666.0 L378.2,666.0 L378.6,665.9 L379.1,665.9 L379.5,665.9 L379.9,665.8 L380.4,665.7 L380.8,665.7 L381.2,665.6 L381.7,665.5 L382.1,665.4 L382.5,665.3 L383.0,665.1 L383.4,665.0 L383.8,664.8 L384.3,664.6 L384.7,664.5 L385.1,664.3 L385.6,664.0 L386.0,663.8 L386.4,663.6 L386.9,663.3 L387.3,663.0 L387.7,662.7 L388.2,662.4 L388.6,662.1 L389.0,661.7 L389.5,661.4 L389.9,661.0 L390.3,660.6 L390.8,660.2 L391.2,659.8 L391.6,659.4 L392.1,659.0 L392.5,658.5 L392.9,658.1 L393.4,657.6 L393.8,657.1 L394.2,656.7 L394.7,656.2 L395.1,655.7 L395.5,655.3 L396.0,654.8 L396.4,654.4 L396.8,654.0 L397.3,653.6 L397.7,653.1 L398.1,652.7 L398.6,652.2 L399.0,651.8 L399.4,651.3 L399.8,650.8 L400.3,650.3 L400.7,649.8 L401.1,649.2 L401.6,648.7 L402.0,648.1 L402.4,647.5 L402.9,646.9 L403.3,646.3 L403.7,645.6 L404.2,645.0 L404.6,644.3 L405.0,643.6 L405.5,642.8 L405.9,642.1 L406.3,641.3 L406.8,640.5 L407.2,639.6 L407.6,638.8 L408.1,637.9 L408.5,637.0 L408.9,636.0 L409.4,635.1 L409.8,634.1 L410.2,633.1 L410.7,632.0 L411.1,631.0 L411.5,629.9 L412.0,628.7 L412.4,627.6 L412.8,626.4 L413.3,625.1 L413.7,623.9 L414.1,622.6 L414.6,621.2 L415.0,619.9 L415.4,618.5 L415.9,617.0 L416.3,615.6 L416.7,614.0 L417.2,612.5 L417.6,610.9 L418.0,609.3 L418.5,607.6 L418.9,605.9 L419.3,604.1 L419.8,602.3 L420.2,600.5 L420.6,598.6 L421.1,596.6 L421.5,594.7 L421.9,592.6 L422.4,590.6 L422.8,588.4 L423.2,586.3 L423.7,584.0 L424.1,581.8 L424.5,579.4 L424.9,577.1 L425.4,574.6 L425.8,572.2 L426.2,569.6 L426.7,567.1 L427.1,564.4 L427.5,561.7 L428.0,559.0 L428.4,556.2 L428.8,553.3 L429.3,550.4 L429.7,547.5 L430.1,544.5 L430.6,541.4 L431.0,538.3 L431.4,535.1 L431.9,531.8 L432.3,528.5 L432.7,525.2 L433.2,521.8 L433.6,518.3 L434.0,514.8 L434.5,511.3 L434.9,507.6 L435.3,504.0 L435.8,500.2 L436.2,496.5 L436.6,492.6 L437.1,488.8 L437.5,484.8 L437.9,480.8 L438.4,476.8 L438.8,472.7 L439.2,468.6 L439.7,464.5 L440.1,460.2 L440.5,456.0 L441.0,451.7 L441.4,447.3 L441.8,443.0 L442.3,438.5 L442.7,434.1 L443.1,429.6 L443.6,425.0 L444.0,420.5 L444.4,415.8 L444.9,411.2 L445.3,406.5 L445.7,401.8 L446.2,397.1 L446.6,392.3 L447.0,387.5 L447.5,382.7 L447.9,377.9 L448.3,373.0 L448.7,368.1 L449.2,363.2 L449.6,358.3 L450.0,353.3 L450.5,348.4 L450.9,343.4 L451.3,338.4 L451.8,333.5 L452.2,328.5 L452.6,323.5 L453.1,318.5 L453.5,313.5 L453.9,308.5 L454.4,303.5 L454.8,298.5 L455.2,293.5 L455.7,288.6 L456.1,283.6 L456.5,278.7 L457.0,273.8 L457.4,268.9 L457.8,264.0 L458.3,259.2 L458.7,254.4 L459.1,249.6 L459.6,244.9 L460.0,240.2 L460.4,235.5 L460.9,230.9 L461.3,226.4 L461.7,221.9 L462.2,217.4 L462.6,213.1 L463.0,208.7 L463.5,204.5 L463.9,200.3 L464.3,196.2 L464.8,192.2 L465.2,188.2 L465.6,184.3 L466.1,180.6 L466.5,176.9 L466.9,173.3 L467.4,169.8 L467.8,166.4 L468.2,163.2 L468.7,160.0 L469.1,156.9 L469.5,154.0 L470.0,151.2 L470.4,148.5 L470.8,146.0 L471.3,143.5 L471.7,141.3 L472.1,139.1 L472.6,137.1 L473.0,135.2 L473.4,133.5 L473.8,131.9 L474.3,130.5 L474.7,129.3 L475.1,128.2 L475.6,127.2 L476.0,126.4 L476.4,125.8 L476.9,125.4 L477.3,125.1 L477.7,125.0 L478.2,125.4 L478.6,125.9 L479.0,126.6 L479.5,127.5 L479.9,128.5 L480.3,129.7 L480.8,131.1 L481.2,132.7 L481.6,134.4 L482.1,136.3 L482.5,138.4 L482.9,140.7 L483.4,143.2 L483.8,145.8 L484.2,148.6 L484.7,151.6 L485.1,154.8 L485.5,158.2 L486.0,161.7 L486.4,165.4 L486.8,169.3 L487.3,173.3 L487.7,177.6 L488.1,182.0 L488.6,186.6 L489.0,191.3 L489.4,196.2 L489.9,201.3 L490.3,206.5 L490.7,211.9 L491.2,217.5 L491.6,223.2 L492.0,229.1 L492.5,235.1 L492.9,241.3 L493.3,247.6 L493.8,254.1 L494.2,260.6 L494.6,267.4 L495.1,274.2 L495.5,281.2 L495.9,288.2 L496.4,295.4 L496.8,302.7 L497.2,310.1 L497.7,317.6 L498.1,325.2 L498.5,332.9 L498.9,340.7 L499.4,348.5 L499.8,356.4 L500.2,364.4 L500.7,372.4 L501.1,380.4 L501.5,388.5 L502.0,396.7 L502.4,404.8 L502.8,413.0 L503.3,421.2 L503.7,429.4 L504.1,437.6 L504.6,445.8 L505.0,454.0 L505.4,462.2 L505.9,470.3 L506.3,478.4 L506.7,486.5 L507.2,494.5 L507.6,502.4 L508.0,510.3 L508.5,518.1 L508.9,525.9 L509.3,533.5 L509.8,541.1 L510.2,548.6 L510.6,556.0 L511.1,563.3 L511.5,570.5 L511.9,577.6 L512.4,584.5 L512.8,591.3 L513.2,598.0 L513.7,604.6 L514.1,611.0 L514.5,617.3 L515.0,623.5 L515.4,629.5 L515.8,635.3 L516.3,641.1 L516.7,646.6 L517.1,652.0 L517.6,657.2 L518.0,662.3 L518.4,664.8 L518.9,660.0 L519.3,655.5 L519.7,651.0 L520.2,646.8 L520.6,642.7 L521.0,638.8 L521.5,635.1 L521.9,631.5 L522.3,628.1 L522.8,624.9 L523.2,621.8 L523.6,618.9 L524.0,616.2 L524.5,613.6 L524.9,611.2 L525.3,609.0 L525.8,606.9 L526.2,605.0 L526.6,603.2 L527.1,601.6 L527.5,600.2 L527.9,598.9 L528.4,597.7 L528.8,596.7 L529.2,595.9 L529.7,595.2 L530.1,594.6 L530.5,594.2 L531.0,593.9 L531.4,593.7 L531.8,593.7 L532.3,593.8 L532.7,594.0 L533.1,594.3 L533.6,594.8 L534.0,595.3 L534.4,596.0 L534.9,596.7 L535.3,597.6 L535.7,598.5 L536.2,599.5 L536.6,600.7 L537.0,601.9 L537.5,603.1 L537.9,604.5 L538.3,605.9 L538.8,607.4 L539.2,608.9 L539.6,610.5 L540.1,612.2 L540.5,613.9 L540.9,615.7 L541.4,617.5 L541.8,619.3 L542.2,621.2 L542.7,623.1 L543.1,625.0 L543.5,626.9 L544.0,628.9 L544.4,630.9 L544.8,632.9 L545.3,634.9 L545.7,636.9 L546.1,638.9 L546.6,640.9 L547.0,642.8 L547.4,644.8 L547.8,646.8 L548.3,648.7 L548.7,650.7 L549.1,652.6 L549.6,654.4 L550.0,656.3 L550.4,658.1 L550.9,659.9 L551.3,661.6 L551.7,663.3 L552.2,664.9 L552.6,665.4 L553.0,663.9 L553.5,662.4 L553.9,660.9 L554.3,659.5 L554.8,658.1 L555.2,656.8 L555.6,655.6 L556.1,654.4 L556.5,653.3 L556.9,652.3 L557.4,651.3 L557.8,650.3 L558.2,649.5 L558.7,648.7 L559.1,647.9 L559.5,647.3 L560.0,646.7 L560.4,646.1 L560.8,645.7 L561.3,645.3 L561.7,644.9 L562.1,644.7 L562.6,644.5 L563.0,644.3 L563.4,644.3 L563.9,644.2 L564.3,644.3 L564.7,644.4 L565.2,644.5 L565.6,644.8 L566.0,645.0 L566.5,645.3 L566.9,645.7 L567.3,646.1 L567.8,646.6 L568.2,647.1 L568.6,647.6 L569.1,648.2 L569.5,648.8 L569.9,649.5 L570.4,650.2 L570.8,650.9 L571.2,651.6 L571.7,652.3 L572.1,653.1 L572.5,653.9 L572.9,654.7 L573.4,655.5 L573.8,656.3 L574.2,657.1 L574.7,657.9 L575.1,658.7 L575.5,659.5 L576.0,660.3 L576.4,661.1 L576.8,661.9 L577.3,662.7 L577.7,663.5 L578.1,664.2 L578.6,664.9 L579.0,665.6 L579.4,665.7 L579.9,665.0 L580.3,664.4 L580.7,663.8 L581.2,663.2 L581.6,662.7 L582.0,662.2 L582.5,661.7 L582.9,661.3 L583.3,660.8 L583.8,660.5 L584.2,660.1 L584.6,659.8 L585.1,659.5 L585.5,659.2 L585.9,659.0 L586.4,658.8 L586.8,658.7 L587.2,658.6 L587.7,658.5 L588.1,658.4 L588.5,658.4 L589.0,658.4 L589.4,658.4 L589.8,658.5 L590.3,658.6 L590.7,658.7 L591.1,658.8 L591.6,659.0 L592.0,659.2 L592.4,659.4 L592.9,659.6 L593.3,659.8 L593.7,660.1 L594.2,660.3 L594.6,660.6 L595.0,660.9 L595.5,661.2 L595.9,661.5 L596.3,661.8 L596.8,662.1 L597.2,662.5 L597.6,662.8 L598.0,663.1 L598.5,663.4 L598.9,663.8 L599.3,664.1 L599.8,664.4 L600.2,664.7 L600.6,665.0 L601.1,665.3 L601.5,665.6 L601.9,665.9 L602.4,665.8 L602.8,665.6 L603.2,665.3 L603.7,665.1 L604.1,664.9 L604.5,664.6 L605.0,664.4 L605.4,664.3 L605.8,664.1 L606.3,663.9 L606.7,663.8 L607.1,663.7 L607.6,663.5 L608.0,663.4 L608.4,663.3 L608.9,663.3 L609.3,663.2 L609.7,663.2 L610.2,663.1 L610.6,663.1 L611.0,663.1 L611.5,663.1 L611.9,663.1 L612.3,663.2 L612.8,663.2 L613.2,663.3 L613.6,663.3 L614.1,663.4 L614.5,663.5 L614.9,663.6 L615.4,663.7 L615.8,663.8 L616.2,663.9 L616.7,664.0 L617.1,664.1 L617.5,664.2 L618.0,664.4 L618.4,664.5 L618.8,664.6 L619.3,664.8 L619.7,664.9 L620.1,665.0 L620.6,665.2 L621.0,665.3 L621.4,665.4 L621.8,665.6 L622.3,665.7 L622.7,665.8 L623.1,665.9 L623.6,666.0 L624.0,665.8 L624.4,665.7 L624.9,665.6 L625.3,665.5 L625.7,665.4 L626.2,665.4 L626.6,665.3 L627.0,665.2 L627.5,665.1 L627.9,665.1 L628.3,665.0 L628.8,665.0 L629.2,664.9 L629.6,664.9 L630.1,664.9 L630.5,664.9 L630.9,664.8 L631.4,664.8 L631.8,664.8 L632.2,664.8 L632.7,664.9 L633.1,664.9 L633.5,664.9 L634.0,664.9 L634.4,664.9 L634.8,665.0 L635.3,665.0 L635.7,665.1 L636.1,665.1 L636.6,665.1 L637.0,665.2 L637.4,665.2 L637.9,665.3 L638.3,665.4 L638.7,665.4 L639.2,665.5 L639.6,665.5 L640.0,665.6 L640.5,665.6 L640.9,665.7 L641.3,665.8 L641.8,665.8 L642.2,665.9 L642.6,665.9 L643.1,666.0 L643.5,666.0 L643.9,665.9 L644.4,665.9 L644.8,665.8 L645.2,665.8 L645.7,665.7 L646.1,665.7 L646.5,665.7 L646.9,665.6 L647.4,665.6 L647.8,665.6 L648.2,665.6 L648.7,665.6 L649.1,665.5 L649.5,665.5 L650.0,665.5 L650.4,665.5 L650.8,665.5 L651.3,665.5 L651.7,665.5 L652.1,665.5 L652.6,665.5 L653.0,665.5 L653.4,665.6 L653.9,665.6 L654.3,665.6 L654.7,665.6 L655.2,665.6 L655.6,665.6 L656.0,665.7 L656.5,665.7 L656.9,665.7 L657.3,665.7 L657.8,665.8 L658.2,665.8 L658.6,665.8 L659.1,665.8 L659.5,665.9 L659.9,665.9 L660.4,665.9 L660.8,665.9 L661.2,666.0 L662.5,666.0 L663.0,665.9 L663.4,665.9 L663.8,665.9 L664.3,665.9 L664.7,665.9 L665.1,665.9 L665.6,665.8 L666.0,665.8 L666.4,665.8 L666.9,665.8 L667.3,665.8 L667.7,665.8 L668.2,665.8 L668.6,665.8 L669.0,665.8 L669.5,665.8 L669.9,665.8 L670.3,665.8 L670.8,665.8 L671.2,665.8 L671.6,665.8 L672.0,665.8 L672.5,665.8 L672.9,665.8 L673.3,665.8 L673.8,665.9 L674.2,665.9 L674.6,665.9 L675.1,665.9 L675.5,665.9 L675.9,665.9 L676.4,665.9 L676.8,665.9 L677.2,665.9 L677.7,666.0 L678.1,666.0 L681.1,666.0 L681.6,666.0 L682.0,665.9 L682.4,665.9 L682.9,665.9 L683.3,665.9 L683.7,665.9 L684.2,665.9 L684.6,665.9 L685.0,665.9 L685.5,665.9 L685.9,665.9 L686.3,665.9 L686.8,665.9 L687.2,665.9 L687.6,665.9 L688.1,665.9 L688.5,665.9 L688.9,665.9 L689.4,665.9 L689.8,665.9 L690.2,665.9 L690.7,665.9 L691.1,665.9 L691.5,665.9 L692.0,665.9 L692.4,666.0 L692.8,666.0 L693.3,666.0 L701.5,666.0 L701.9,666.0 L702.3,666.0 L702.8,666.0 L703.2,666.0 L703.6,666.0 L704.1,666.0 L704.5,666.0 L955.5,666.0" stroke="#00ff00" stroke-dasharray="3.7 4.275"/>
</g>
<text transform="translate(75.2,683.2) scale(1.015,1.035)" text-anchor="end">0</text>
<text transform="translate(75.2,520.5) scale(1.015,1.035)" text-anchor="end">2</text>
<text transform="translate(75.2,357.8) scale(1.015,1.035)" text-anchor="end">4</text>
<text transform="translate(75.2,195.1) scale(1.015,1.035)" text-anchor="end">6</text>
<text transform="translate(75.2,32.4) scale(1.015,1.035)" text-anchor="end">8</text>
<text transform="translate(90.0,725.2) scale(1.015,1.035)" text-anchor="middle">0</text>
<text transform="translate(378.5,725.2) scale(1.015,1.035)" text-anchor="middle">5</text>
<text transform="translate(667.0,725.2) scale(1.015,1.035)" text-anchor="middle">10</text>
<text transform="translate(955.5,725.2) scale(1.015,1.035)" text-anchor="middle">15</text>
<text y="782"><tspan x="425.5" letter-spacing="0.5">Time</tspan><tspan x="525.5"> (</tspan><tspan x="555.5" font-style="italic" textLength="29.3" lengthAdjust="spacingAndGlyphs">μ</tspan><tspan x="584.5">s</tspan><tspan x="602.5">)</tspan></text>
<text transform="translate(33.5,341) rotate(-90)" text-anchor="middle">Displacement (nm)</text>
</svg></body></html>
